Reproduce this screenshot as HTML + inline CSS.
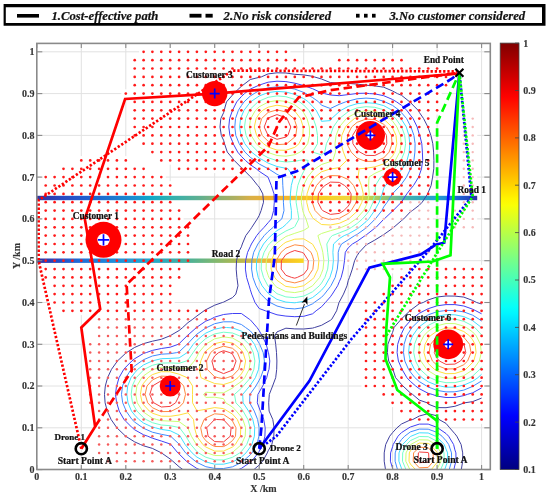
<!DOCTYPE html><html><head><meta charset="utf-8"><style>html,body{margin:0;padding:0;background:#fff;}svg{display:block;}</style></head><body><svg width="550" height="496" viewBox="0 0 550 496">
<defs>
<linearGradient id="r1" x1="0" x2="1" y1="0" y2="0"><stop offset="0.0005" stop-color="#3030a0"/><stop offset="0.0527" stop-color="#2848c0"/><stop offset="0.1208" stop-color="#2060d0"/><stop offset="0.2252" stop-color="#1a90d0"/><stop offset="0.257" stop-color="#10a8c8"/><stop offset="0.3025" stop-color="#30b0b0"/><stop offset="0.3706" stop-color="#60b090"/><stop offset="0.416" stop-color="#90b070"/><stop offset="0.4523" stop-color="#b0b060"/><stop offset="0.4841" stop-color="#d8b048"/><stop offset="0.5295" stop-color="#f0b030"/><stop offset="0.5976" stop-color="#f4bc2c"/><stop offset="0.6431" stop-color="#f8d020"/><stop offset="0.7112" stop-color="#f0d840"/><stop offset="0.7566" stop-color="#c0d050"/><stop offset="0.802" stop-color="#80c080"/><stop offset="0.8474" stop-color="#40b0b0"/><stop offset="0.9064" stop-color="#20a0d0"/><stop offset="0.9382" stop-color="#2080d8"/><stop offset="0.9723" stop-color="#2050c8"/><stop offset="1.0" stop-color="#3030a0"/></linearGradient>
<linearGradient id="r2" x1="0" x2="1" y1="0" y2="0"><stop offset="0.0" stop-color="#3030a0"/><stop offset="0.0667" stop-color="#2848c0"/><stop offset="0.1667" stop-color="#2070d8"/><stop offset="0.3333" stop-color="#1e98d8"/><stop offset="0.4167" stop-color="#20a8d0"/><stop offset="0.55" stop-color="#40b0a0"/><stop offset="0.6667" stop-color="#80b870"/><stop offset="0.75" stop-color="#b0b850"/><stop offset="0.8333" stop-color="#e8b840"/><stop offset="0.9167" stop-color="#f8b828"/><stop offset="1.0" stop-color="#f8d820"/></linearGradient>
<linearGradient id="cb" x1="0" x2="0" y1="0" y2="1"><stop offset="0.0000" stop-color="#800000"/><stop offset="0.0159" stop-color="#900000"/><stop offset="0.0317" stop-color="#a00000"/><stop offset="0.0476" stop-color="#b00000"/><stop offset="0.0635" stop-color="#c00000"/><stop offset="0.0794" stop-color="#d00000"/><stop offset="0.0952" stop-color="#e10000"/><stop offset="0.1111" stop-color="#f10000"/><stop offset="0.1270" stop-color="#ff0200"/><stop offset="0.1429" stop-color="#ff1200"/><stop offset="0.1587" stop-color="#ff2200"/><stop offset="0.1746" stop-color="#ff3300"/><stop offset="0.1905" stop-color="#ff4300"/><stop offset="0.2063" stop-color="#ff5300"/><stop offset="0.2222" stop-color="#ff6300"/><stop offset="0.2381" stop-color="#ff7300"/><stop offset="0.2540" stop-color="#ff8400"/><stop offset="0.2698" stop-color="#ff9400"/><stop offset="0.2857" stop-color="#ffa400"/><stop offset="0.3016" stop-color="#ffb400"/><stop offset="0.3175" stop-color="#ffc400"/><stop offset="0.3333" stop-color="#ffd400"/><stop offset="0.3492" stop-color="#ffe500"/><stop offset="0.3651" stop-color="#fff500"/><stop offset="0.3810" stop-color="#f9ff06"/><stop offset="0.3968" stop-color="#e9ff16"/><stop offset="0.4127" stop-color="#d9ff26"/><stop offset="0.4286" stop-color="#c8ff37"/><stop offset="0.4444" stop-color="#b8ff47"/><stop offset="0.4603" stop-color="#a8ff57"/><stop offset="0.4762" stop-color="#98ff67"/><stop offset="0.4921" stop-color="#88ff77"/><stop offset="0.5079" stop-color="#77ff88"/><stop offset="0.5238" stop-color="#67ff98"/><stop offset="0.5397" stop-color="#57ffa8"/><stop offset="0.5556" stop-color="#47ffb8"/><stop offset="0.5714" stop-color="#37ffc8"/><stop offset="0.5873" stop-color="#26ffd9"/><stop offset="0.6032" stop-color="#16ffe9"/><stop offset="0.6190" stop-color="#06fff9"/><stop offset="0.6349" stop-color="#00f5ff"/><stop offset="0.6508" stop-color="#00e5ff"/><stop offset="0.6667" stop-color="#00d5ff"/><stop offset="0.6825" stop-color="#00c4ff"/><stop offset="0.6984" stop-color="#00b4ff"/><stop offset="0.7143" stop-color="#00a4ff"/><stop offset="0.7302" stop-color="#0094ff"/><stop offset="0.7460" stop-color="#0084ff"/><stop offset="0.7619" stop-color="#0073ff"/><stop offset="0.7778" stop-color="#0063ff"/><stop offset="0.7937" stop-color="#0053ff"/><stop offset="0.8095" stop-color="#0043ff"/><stop offset="0.8254" stop-color="#0033ff"/><stop offset="0.8413" stop-color="#0022ff"/><stop offset="0.8571" stop-color="#0012ff"/><stop offset="0.8730" stop-color="#0002ff"/><stop offset="0.8889" stop-color="#0000f1"/><stop offset="0.9048" stop-color="#0000e1"/><stop offset="0.9206" stop-color="#0000d0"/><stop offset="0.9365" stop-color="#0000c0"/><stop offset="0.9524" stop-color="#0000b0"/><stop offset="0.9683" stop-color="#0000a0"/><stop offset="0.9841" stop-color="#000090"/><stop offset="1.0000" stop-color="#000080"/></linearGradient>
<clipPath id="ax"><rect x="36.8" y="43.4" width="453.5" height="426.1"/></clipPath>
</defs>
<rect width="550" height="496" fill="#fff"/>
<path d="M3.6,4H545.5V25.8H3.6Z M5.8,7.2V22.9H542V7.2Z" fill="#000" fill-rule="evenodd"/>
<line x1="17" y1="15.8" x2="39" y2="15.8" stroke="#000" stroke-width="3.6"/>
<line x1="189.5" y1="15.7" x2="201.5" y2="15.7" stroke="#000" stroke-width="3.8"/>
<line x1="205.5" y1="15.7" x2="212.7" y2="15.7" stroke="#000" stroke-width="3.8"/>
<rect x="356" y="13.8" width="3.6" height="3.8" fill="#000"/>
<rect x="364" y="13.8" width="3.6" height="3.8" fill="#000"/>
<rect x="372" y="13.8" width="3.6" height="3.8" fill="#000"/>
<text x="51.5" y="20" font-family="Liberation Serif, serif" font-weight="bold" font-style="italic" font-size="12.7" fill="#111" stroke="#111" stroke-width="0.2">1.Cost-effective path</text>
<text x="223.6" y="20" font-family="Liberation Serif, serif" font-weight="bold" font-style="italic" font-size="12.7" fill="#111" stroke="#111" stroke-width="0.2">2.No risk considered</text>
<text x="389.5" y="20" font-family="Liberation Serif, serif" font-weight="bold" font-style="italic" font-size="12.7" fill="#111" stroke="#111" stroke-width="0.2">3.No customer considered</text>
<g stroke="#e2e2e2" stroke-width="1"><line x1="81.3" y1="43.4" x2="81.3" y2="469.5"/><line x1="36.8" y1="427.8" x2="490.3" y2="427.8"/><line x1="125.8" y1="43.4" x2="125.8" y2="469.5"/><line x1="36.8" y1="386.0" x2="490.3" y2="386.0"/><line x1="170.2" y1="43.4" x2="170.2" y2="469.5"/><line x1="36.8" y1="344.3" x2="490.3" y2="344.3"/><line x1="214.7" y1="43.4" x2="214.7" y2="469.5"/><line x1="36.8" y1="302.5" x2="490.3" y2="302.5"/><line x1="259.2" y1="43.4" x2="259.2" y2="469.5"/><line x1="36.8" y1="260.7" x2="490.3" y2="260.7"/><line x1="303.7" y1="43.4" x2="303.7" y2="469.5"/><line x1="36.8" y1="218.9" x2="490.3" y2="218.9"/><line x1="348.2" y1="43.4" x2="348.2" y2="469.5"/><line x1="36.8" y1="177.1" x2="490.3" y2="177.1"/><line x1="392.6" y1="43.4" x2="392.6" y2="469.5"/><line x1="36.8" y1="135.4" x2="490.3" y2="135.4"/><line x1="437.1" y1="43.4" x2="437.1" y2="469.5"/><line x1="36.8" y1="93.6" x2="490.3" y2="93.6"/><line x1="481.6" y1="43.4" x2="481.6" y2="469.5"/><line x1="36.8" y1="51.8" x2="490.3" y2="51.8"/></g>
<g clip-path="url(#ax)">
<g fill="#fff"><rect x="139.1" y="47.5" width="151.3" height="8.6"/><rect x="130.2" y="55.9" width="169.1" height="8.6"/><rect x="334.8" y="55.9" width="71.3" height="8.6"/><rect x="130.2" y="64.2" width="311.5" height="8.6"/><rect x="130.2" y="72.6" width="320.4" height="8.6"/><rect x="130.2" y="80.9" width="320.4" height="8.6"/><rect x="121.3" y="89.3" width="320.4" height="8.6"/><rect x="130.2" y="97.6" width="311.5" height="8.6"/><rect x="130.2" y="106.0" width="311.5" height="8.6"/><rect x="130.2" y="114.3" width="302.6" height="8.6"/><rect x="459.3" y="114.3" width="17.9" height="8.6"/><rect x="130.2" y="122.7" width="302.6" height="8.6"/><rect x="459.3" y="122.7" width="17.9" height="8.6"/><rect x="130.2" y="131.1" width="302.6" height="8.6"/><rect x="459.3" y="131.1" width="17.9" height="8.6"/><rect x="139.1" y="139.4" width="293.7" height="8.6"/><rect x="459.3" y="139.4" width="17.9" height="8.6"/><rect x="147.9" y="147.8" width="284.8" height="8.6"/><rect x="459.3" y="147.8" width="17.9" height="8.6"/><rect x="76.8" y="156.1" width="53.5" height="8.6"/><rect x="156.8" y="156.1" width="275.9" height="8.6"/><rect x="459.3" y="156.1" width="17.9" height="8.6"/><rect x="59.0" y="164.5" width="89.1" height="8.6"/><rect x="174.6" y="164.5" width="258.1" height="8.6"/><rect x="459.3" y="164.5" width="17.9" height="8.6"/><rect x="41.2" y="172.8" width="124.6" height="8.6"/><rect x="290.3" y="172.8" width="142.4" height="8.6"/><rect x="459.3" y="172.8" width="17.9" height="8.6"/><rect x="41.2" y="181.2" width="133.5" height="8.6"/><rect x="299.2" y="181.2" width="133.5" height="8.6"/><rect x="459.3" y="181.2" width="17.9" height="8.6"/><rect x="41.2" y="189.6" width="133.5" height="8.6"/><rect x="308.1" y="189.6" width="124.6" height="8.6"/><rect x="459.3" y="189.6" width="17.9" height="8.6"/><rect x="41.2" y="197.9" width="133.5" height="8.6"/><rect x="308.1" y="197.9" width="98.0" height="8.6"/><rect x="405.9" y="197.9" width="26.8" height="8.6"/><rect x="459.3" y="197.9" width="17.9" height="8.6"/><rect x="41.2" y="206.3" width="142.4" height="8.6"/><rect x="325.9" y="206.3" width="80.2" height="8.6"/><rect x="405.9" y="206.3" width="26.8" height="8.6"/><rect x="450.4" y="206.3" width="26.8" height="8.6"/><rect x="41.2" y="214.6" width="142.4" height="8.6"/><rect x="317.0" y="214.6" width="115.8" height="8.6"/><rect x="450.4" y="214.6" width="26.8" height="8.6"/><rect x="41.2" y="223.0" width="151.3" height="8.6"/><rect x="325.9" y="223.0" width="106.9" height="8.6"/><rect x="450.4" y="223.0" width="26.8" height="8.6"/><rect x="41.2" y="231.3" width="151.3" height="8.6"/><rect x="334.8" y="231.3" width="98.0" height="8.6"/><rect x="41.2" y="239.7" width="151.3" height="8.6"/><rect x="334.8" y="239.7" width="98.0" height="8.6"/><rect x="41.2" y="248.0" width="151.3" height="8.6"/><rect x="343.7" y="248.0" width="89.1" height="8.6"/><rect x="41.2" y="256.4" width="151.3" height="8.6"/><rect x="343.7" y="256.4" width="89.1" height="8.6"/><rect x="41.2" y="264.8" width="142.4" height="8.6"/><rect x="352.6" y="264.8" width="53.5" height="8.6"/><rect x="405.9" y="264.8" width="80.2" height="8.6"/><rect x="41.2" y="273.1" width="142.4" height="8.6"/><rect x="397.0" y="273.1" width="89.1" height="8.6"/><rect x="50.1" y="281.5" width="124.6" height="8.6"/><rect x="388.1" y="281.5" width="98.0" height="8.6"/><rect x="50.1" y="289.8" width="124.6" height="8.6"/><rect x="379.2" y="289.8" width="106.9" height="8.6"/><rect x="50.1" y="298.2" width="124.6" height="8.6"/><rect x="361.5" y="298.2" width="124.6" height="8.6"/><rect x="59.0" y="306.5" width="151.3" height="8.6"/><rect x="361.5" y="306.5" width="124.6" height="8.6"/><rect x="94.6" y="314.9" width="133.5" height="8.6"/><rect x="361.5" y="314.9" width="124.6" height="8.6"/><rect x="94.6" y="323.2" width="142.4" height="8.6"/><rect x="361.5" y="323.2" width="124.6" height="8.6"/><rect x="94.6" y="331.6" width="160.2" height="8.6"/><rect x="361.5" y="331.6" width="124.6" height="8.6"/><rect x="85.7" y="340.0" width="169.1" height="8.6"/><rect x="361.5" y="340.0" width="124.6" height="8.6"/><rect x="85.7" y="348.3" width="169.1" height="8.6"/><rect x="361.5" y="348.3" width="124.6" height="8.6"/><rect x="85.7" y="356.7" width="169.1" height="8.6"/><rect x="361.5" y="356.7" width="124.6" height="8.6"/><rect x="85.7" y="365.0" width="169.1" height="8.6"/><rect x="361.5" y="365.0" width="124.6" height="8.6"/><rect x="85.7" y="373.4" width="169.1" height="8.6"/><rect x="361.5" y="373.4" width="124.6" height="8.6"/><rect x="85.7" y="381.7" width="169.1" height="8.6"/><rect x="361.5" y="381.7" width="124.6" height="8.6"/><rect x="85.7" y="390.1" width="169.1" height="8.6"/><rect x="379.2" y="390.1" width="106.9" height="8.6"/><rect x="85.7" y="398.5" width="169.1" height="8.6"/><rect x="388.1" y="398.5" width="98.0" height="8.6"/><rect x="94.6" y="406.8" width="160.2" height="8.6"/><rect x="397.0" y="406.8" width="89.1" height="8.6"/><rect x="94.6" y="415.2" width="160.2" height="8.6"/><rect x="405.9" y="415.2" width="80.2" height="8.6"/><rect x="94.6" y="423.5" width="160.2" height="8.6"/><rect x="94.6" y="431.9" width="160.2" height="8.6"/><rect x="94.6" y="440.2" width="160.2" height="8.6"/><rect x="94.6" y="448.6" width="160.2" height="8.6"/><rect x="103.5" y="456.9" width="151.3" height="8.6"/></g>
<rect x="36.8" y="195.8" width="440.4" height="4.4" fill="url(#r1)"/>
<rect x="36.8" y="258.5" width="266.9" height="4.4" fill="url(#r2)"/>
<g fill="none" stroke-width="1" stroke-linejoin="round"><polyline points="253.9,469.6 259.2,465.0 262.7,461.2 267.3,452.9 268.1,450.9 271.8,444.5 273.8,436.2 274.1,427.8 272.8,419.5 269.1,411.1 268.7,402.8 269.3,394.4 272.6,386.0 275.7,377.7 276.7,369.3 276.9,361.0 276.5,352.6 275.7,344.3 274.5,335.9 277.0,331.9 285.9,328.2 294.8,328.9 303.7,329.0 312.6,328.1 314.6,327.5 321.5,325.3 330.4,320.3 331.8,319.2 336.6,310.8 339.0,302.5 339.3,302.0 343.5,294.1 347.0,285.8 348.2,280.7 349.5,277.4 352.3,269.1 354.6,260.7 357.1,255.6 359.3,252.3 366.0,245.1 367.8,244.0 374.8,240.1 382.0,235.6 383.7,234.6 392.6,228.3 393.8,227.3 401.5,220.6 403.7,218.9 410.4,211.8 412.3,210.6 419.3,205.2 422.2,202.2 427.7,193.9 428.2,192.5 431.1,185.5 432.6,177.1 433.8,168.8 433.9,160.4 433.6,152.1 432.8,143.7 430.9,135.4 428.2,127.9 427.9,127.0 423.6,118.6 419.3,112.4 418.1,110.3 410.4,102.5 409.8,101.9 401.5,95.3 397.4,93.6 392.6,91.0 383.7,87.2 374.8,85.9 366.1,85.2 366.0,85.2 357.1,84.1 348.2,83.4 339.3,83.3 330.4,82.6 321.5,79.0 314.3,76.9 312.6,76.3 303.7,74.9 294.8,74.3 285.9,73.0 277.0,72.8 268.1,73.9 261.3,76.9 259.2,77.3 250.3,79.5 242.9,85.2 241.4,86.3 233.6,93.6 232.5,95.0 226.5,101.9 224.2,110.3 223.6,112.7 220.8,118.6 220.0,127.0 221.3,135.4 223.6,140.3 224.5,143.7 227.3,152.1 232.5,158.2 234.2,160.4 241.4,167.7 242.7,168.8 250.3,176.6 251.0,177.1 257.7,185.5 259.2,187.1 262.8,193.9 263.5,202.2 261.1,210.6 259.2,215.5 257.3,218.9 251.8,227.3 250.3,229.6 245.8,235.6 242.3,244.0 241.4,246.8 238.5,252.3 236.5,260.7 236.2,269.1 236.9,277.4 238.0,285.8 235.8,294.1 232.5,297.6 223.6,302.1 222.3,302.5 214.7,305.2 205.8,309.7 204.0,310.8 196.9,316.0 192.8,319.2 188.0,322.6 182.7,327.5 179.1,330.5 170.2,335.7 169.7,335.9 161.3,339.3 152.4,341.2 143.6,343.6 141.9,344.3 134.7,347.4 126.5,352.6 125.8,353.1 117.4,361.0 116.9,361.8 111.5,369.3 108.0,376.8 107.6,377.7 105.3,386.0 104.5,394.4 105.1,402.8 107.3,411.1 108.0,412.7 111.1,419.5 116.9,427.8 116.9,427.8 125.6,436.2 125.8,436.3 134.7,441.9 140.5,444.5 143.6,445.8 152.4,448.4 161.3,452.8 161.5,452.9 170.2,459.0 172.8,461.2 179.1,466.8 182.9,469.6" stroke="#40409f"/><polyline points="461.3,469.6 462.7,461.2 462.7,452.9 461.1,444.5 456.8,436.2 454.9,433.8 449.7,427.8 446.0,423.4 439.0,419.5 437.1,415.9 428.2,413.6 419.3,416.0 412.8,419.5 410.4,419.9 401.5,424.0 397.0,427.8 392.6,432.6 389.7,436.2 385.7,444.5 384.2,452.9 384.2,461.2 385.5,469.6" stroke="#40409f"/><polyline points="481.6,304.0 476.7,302.5 472.7,300.5 463.8,297.1 454.9,296.1 446.0,296.0 437.1,297.0 428.2,299.9 423.2,302.5 419.3,303.7 410.4,310.4 409.9,310.8 401.5,318.8 401.2,319.2 394.0,327.5 392.6,332.4 391.0,335.9 387.9,344.3 387.4,352.6 388.7,361.0 392.6,368.6 392.9,369.3 395.6,377.7 401.5,384.4 403.0,386.0 410.4,393.0 412.6,394.4 419.3,400.1 427.2,402.8 428.2,404.1 437.1,407.6 446.0,407.7 454.9,406.3 463.8,403.1 464.8,402.8 472.7,401.6 481.6,398.1" stroke="#40409f"/><polyline points="238.5,469.6 241.4,468.4 250.3,462.3 251.5,461.2 258.4,452.9 259.2,451.3 262.9,444.5 264.9,436.2 265.2,427.8 263.7,419.5 260.4,411.1 259.2,407.9 257.3,402.8 257.9,394.4 259.2,392.2 262.7,386.0 266.7,377.7 268.1,372.0 269.0,369.3 269.8,361.0 268.5,352.6 268.1,351.4 266.2,344.3 262.2,335.9 259.2,330.6 257.0,327.5 250.3,319.8 249.3,319.2 241.4,313.5 232.5,313.5 223.6,314.5 214.7,317.1 210.8,319.2 205.8,321.1 196.9,327.2 196.5,327.5 188.0,335.0 187.0,335.9 179.1,343.7 178.2,344.3 170.2,347.2 161.3,348.5 152.4,350.4 146.3,352.6 143.6,353.4 134.7,358.7 131.8,361.0 125.8,367.1 123.8,369.3 119.0,377.7 116.9,385.2 116.5,386.0 115.5,394.4 116.6,402.8 116.9,403.3 119.2,411.1 124.0,419.5 125.8,421.3 132.3,427.8 134.7,429.8 143.6,434.8 147.7,436.2 152.4,438.2 161.3,441.0 170.2,444.0 170.9,444.5 177.9,452.9 179.1,454.0 186.4,461.2 188.0,462.6 196.9,468.5 199.7,469.6" stroke="#4040f4"/><polyline points="453.9,469.6 454.9,465.0 456.0,461.2 455.9,452.9 454.9,449.9 453.6,444.5 448.6,436.2 446.0,433.5 437.7,427.8 437.1,427.4 428.2,424.1 419.3,424.1 410.4,427.0 409.0,427.8 401.5,432.6 398.0,436.2 393.2,444.5 392.6,446.7 390.6,452.9 390.4,461.2 392.6,468.4 392.9,469.6" stroke="#4040f4"/><polyline points="481.6,313.8 475.9,310.8 472.7,309.2 463.8,306.0 454.9,304.6 446.0,304.6 437.1,305.8 428.2,308.7 424.1,310.8 419.3,313.3 411.9,319.2 410.4,320.6 404.4,327.5 401.5,333.6 400.4,335.9 397.7,344.3 397.1,352.6 398.4,361.0 401.5,368.2 402.0,369.3 406.9,377.7 410.4,381.4 415.7,386.0 419.3,388.7 428.2,393.3 432.2,394.4 437.1,396.1 446.0,397.5 454.9,397.4 463.8,395.6 467.3,394.4 472.7,392.8 481.6,387.9" stroke="#4040f4"/><polyline points="294.8,83.2 285.9,81.6 277.0,81.2 268.1,82.2 259.2,85.1 259.0,85.2 250.3,89.1 244.5,93.6 241.4,96.5 236.7,101.9 232.5,110.3 232.5,110.3 229.6,118.6 228.8,127.0 229.9,135.4 232.5,141.7 233.2,143.7 237.7,152.1 241.4,156.4 245.4,160.4 250.3,164.7 256.3,168.8 259.2,171.3 268.0,177.1 268.1,177.3 271.3,185.5 274.0,193.9 274.3,202.2 273.6,210.6 271.4,218.9 268.1,222.7 264.1,227.3 259.2,232.5 256.7,235.6 251.4,244.0 250.3,246.5 247.6,252.3 245.6,260.7 245.4,269.1 246.6,277.4 249.2,285.8 250.3,289.7 251.7,294.1 255.0,302.5 259.2,308.5 265.4,310.8 268.1,311.7 277.0,314.8 285.9,316.1 294.8,316.7 303.7,316.3 312.6,313.8 316.1,310.8 321.5,306.8 325.4,302.5 330.4,296.8 332.3,294.1 337.6,285.8 339.3,281.7 341.2,277.4 343.3,269.1 344.5,260.7 345.3,252.3 348.2,247.9 352.4,244.0 357.1,241.3 365.1,235.6 366.0,235.1 374.8,228.2 376.1,227.3 383.7,219.3 384.3,218.9 392.6,211.0 393.1,210.6 401.4,202.2 401.5,202.1 406.8,193.9 410.4,189.2 413.5,185.5 418.6,177.1 419.3,175.1 421.5,168.8 422.7,160.4 422.4,152.1 421.8,143.7 419.8,135.4 419.3,134.5 417.2,127.0 413.1,118.6 410.4,115.2 406.8,110.3 401.5,105.3 396.6,101.9 392.6,99.5 383.7,95.7 374.8,93.9 369.5,93.6 366.0,93.2 357.1,93.4 356.2,93.6 348.2,94.6 339.3,95.7 330.4,95.0 324.5,93.6 321.5,92.9 312.6,88.7 303.7,85.6 302.3,85.2 294.8,83.2" stroke="#4040f4"/><polyline points="241.4,324.5 232.5,321.8 223.6,321.8 214.7,323.7 206.9,327.5 205.8,328.0 196.9,334.1 195.0,335.9 188.0,343.4 187.1,344.3 179.1,351.9 176.7,352.6 170.2,353.7 161.3,354.2 152.4,356.0 143.6,359.7 141.6,361.0 134.7,365.9 131.2,369.3 125.8,377.7 125.8,377.8 122.5,386.0 121.5,394.4 122.7,402.8 125.8,410.1 126.1,411.1 132.0,419.5 134.7,422.1 142.8,427.8 143.6,428.3 152.4,432.2 161.3,434.3 170.2,436.0 170.6,436.2 179.1,444.1 179.4,444.5 185.6,452.9 188.0,455.2 195.3,461.2 196.9,462.4 205.8,466.7 214.7,468.4 223.6,468.5 232.5,466.8 241.4,462.5 243.1,461.2 250.3,454.8 252.0,452.9 256.9,444.5 258.9,436.2 259.1,427.8 257.6,419.5 254.3,411.1 250.3,403.9 249.6,402.8 249.9,394.4 250.3,393.9 255.9,386.0 259.2,380.2 260.6,377.7 263.6,369.3 264.4,361.0 263.2,352.6 259.7,344.3 259.2,343.3 254.6,335.9 250.3,330.9 245.6,327.5 241.4,324.5" stroke="#408aff"/><polyline points="449.2,469.6 451.6,461.2 451.5,452.9 448.7,444.5 446.0,440.7 442.0,436.2 437.1,432.4 428.2,429.2 419.3,429.1 410.4,431.9 404.7,436.2 401.5,439.5 397.9,444.5 395.2,452.9 395.1,461.2 397.5,469.6" stroke="#408aff"/><polyline points="481.6,321.1 479.0,319.2 472.7,315.2 463.8,311.9 456.8,310.8 454.9,310.5 446.0,310.4 443.4,310.8 437.1,311.7 428.2,314.8 421.1,319.2 419.3,320.4 412.0,327.5 410.4,329.9 406.7,335.9 404.1,344.3 403.5,352.6 404.8,361.0 408.5,369.3 410.4,372.0 414.9,377.7 419.3,381.6 426.6,386.0 428.2,387.0 437.1,390.4 446.0,391.9 454.9,391.8 463.8,390.1 472.7,386.4 473.3,386.0 481.6,380.9" stroke="#408aff"/><polyline points="303.7,92.4 294.8,89.1 285.9,87.3 277.0,86.9 268.1,87.8 259.2,90.7 254.1,93.6 250.3,96.0 244.0,101.9 241.4,105.6 238.4,110.3 235.5,118.6 234.8,127.0 235.8,135.4 239.2,143.7 241.4,147.1 245.0,152.1 250.3,157.3 254.5,160.4 259.2,164.0 268.1,168.7 268.4,168.8 277.0,174.3 282.5,177.1 282.8,185.5 283.4,193.9 283.4,202.2 284.0,210.6 281.8,218.9 277.0,223.0 273.2,227.3 268.1,231.6 264.2,235.6 259.2,242.2 257.9,244.0 253.7,252.3 251.8,260.7 251.6,269.1 252.9,277.4 256.0,285.8 259.2,291.7 260.9,294.1 268.1,301.3 270.2,302.5 277.0,306.0 285.9,308.3 294.8,308.9 303.7,307.7 312.6,303.8 314.2,302.5 321.5,297.3 324.5,294.1 330.4,286.5 330.9,285.8 335.2,277.4 337.3,269.1 338.2,260.7 338.2,252.3 339.3,248.4 341.5,244.0 348.2,239.8 354.7,235.6 357.1,234.4 366.0,228.0 366.9,227.3 374.8,219.4 375.4,218.9 381.9,210.6 383.7,206.9 387.2,202.2 392.5,193.9 392.6,193.6 400.4,185.5 401.5,184.1 406.5,177.1 410.4,169.1 410.6,168.8 413.9,160.4 414.9,152.1 415.1,143.7 413.9,135.4 411.0,127.0 410.4,126.0 406.6,118.6 401.5,112.7 399.1,110.3 392.6,105.4 385.0,101.9 383.7,101.3 374.8,98.7 366.0,98.1 357.1,98.8 348.2,101.1 345.5,101.9 339.3,104.3 330.4,108.5 321.5,105.2 318.7,101.9 312.6,97.6 306.0,93.6 303.7,92.4" stroke="#408aff"/><polyline points="223.6,327.4 222.8,327.5 214.7,329.2 205.8,333.1 202.1,335.9 196.9,340.4 193.2,344.3 188.0,351.8 187.2,352.6 179.1,357.9 170.2,358.4 161.3,358.7 152.4,360.9 152.2,361.0 143.6,364.9 137.8,369.3 134.7,372.8 131.0,377.7 127.7,386.0 126.8,394.4 128.0,402.8 131.5,411.1 134.7,415.1 138.9,419.5 143.6,423.1 152.4,427.1 155.5,427.8 161.3,429.4 170.2,430.7 179.1,435.0 180.1,436.2 185.1,444.5 188.0,448.1 192.1,452.9 196.9,457.1 204.5,461.2 205.8,461.9 214.7,464.2 223.6,464.2 232.5,462.0 234.1,461.2 241.4,457.1 246.0,452.9 250.3,447.0 251.9,444.5 254.4,436.2 254.7,427.8 252.8,419.5 250.3,414.2 248.6,411.1 243.1,402.8 242.7,394.4 249.7,386.0 250.3,385.3 255.4,377.7 258.6,369.3 259.2,363.7 259.5,361.0 259.2,359.2 258.1,352.6 254.5,344.3 250.3,338.6 247.5,335.9 241.4,331.1 232.5,327.9 226.5,327.5 223.6,327.4" stroke="#40dfff"/><polyline points="444.7,469.6 446.0,465.9 447.7,461.2 447.6,452.9 446.0,449.0 444.2,444.5 437.1,437.1 435.4,436.2 428.2,433.0 419.3,432.8 411.1,436.2 410.4,436.5 402.5,444.5 401.5,446.7 399.0,452.9 398.9,461.2 401.5,468.4 402.0,469.6" stroke="#40dfff"/><polyline points="481.6,327.6 481.5,327.5 472.7,320.7 469.7,319.2 463.8,316.6 454.9,314.8 446.0,314.7 437.1,316.3 430.3,319.2 428.2,320.2 419.3,326.7 418.4,327.5 412.5,335.9 410.4,341.3 409.4,344.3 408.6,352.6 410.4,361.0 410.4,361.1 414.4,369.3 419.3,375.1 422.2,377.7 428.2,381.8 437.1,385.4 440.2,386.0 446.0,387.2 454.9,387.1 459.7,386.0 463.8,385.1 472.7,381.3 477.9,377.7 481.6,374.2" stroke="#40dfff"/><polyline points="285.9,92.0 277.0,91.4 268.1,92.6 265.3,93.6 259.2,96.0 250.5,101.9 250.3,102.1 244.0,110.3 241.4,116.5 240.6,118.6 239.6,127.0 241.0,135.4 241.4,136.3 244.8,143.7 250.3,150.7 251.6,152.1 259.2,158.1 263.5,160.4 268.1,163.1 277.0,166.5 285.9,168.3 288.1,168.8 293.5,177.1 291.3,185.5 290.4,193.9 290.2,202.2 291.4,210.6 291.3,218.9 285.9,224.5 282.7,227.3 277.0,230.6 271.2,235.6 268.1,238.6 263.5,244.0 259.2,251.9 259.0,252.3 256.6,260.7 256.4,269.1 258.2,277.4 259.2,279.7 262.1,285.8 268.1,293.3 269.0,294.1 277.0,299.4 285.9,302.1 290.9,302.5 294.8,302.8 296.5,302.5 303.7,301.3 312.6,297.5 317.0,294.1 321.5,290.2 325.2,285.8 329.9,277.4 330.4,275.9 332.5,269.1 333.4,260.7 332.9,252.3 333.5,244.0 339.3,238.6 344.2,235.6 348.2,234.0 357.1,228.9 359.3,227.3 366.0,221.7 368.8,218.9 374.6,210.6 374.8,210.1 379.2,202.2 382.2,193.9 383.7,188.4 385.4,185.5 392.6,179.2 394.5,177.1 401.5,169.8 402.3,168.8 407.0,160.4 409.2,152.1 409.8,143.7 408.9,135.4 406.3,127.0 401.5,119.4 401.0,118.6 392.6,110.6 392.2,110.3 383.7,105.6 374.8,103.3 366.0,102.7 357.1,103.7 348.2,106.4 341.1,110.3 339.3,111.6 331.5,118.6 330.4,120.6 321.5,121.3 320.5,118.6 316.2,110.3 312.6,106.4 308.4,101.9 303.7,98.6 294.8,94.4 291.8,93.6 285.9,92.0" stroke="#40dfff"/><polyline points="440.7,469.6 444.2,461.2 444.0,452.9 440.1,444.5 437.1,441.3 428.2,436.7 419.3,436.5 410.4,440.6 406.6,444.5 402.7,452.9 402.5,461.2 406.0,469.6" stroke="#75ffca"/><polyline points="232.5,333.0 223.6,332.2 214.7,333.9 210.5,335.9 205.8,338.5 199.3,344.3 196.9,347.2 193.1,352.6 188.0,360.0 186.2,361.0 179.1,363.3 170.2,362.9 161.3,363.1 152.4,365.3 144.3,369.3 143.6,369.9 136.2,377.7 134.7,380.6 132.2,386.0 131.2,394.4 132.5,402.8 134.7,407.2 137.0,411.1 143.6,417.8 146.1,419.5 152.4,422.7 161.3,425.0 170.2,425.7 179.1,427.5 179.6,427.8 185.9,436.2 188.0,439.8 190.8,444.5 196.9,451.6 198.5,452.9 205.8,457.2 214.7,459.9 223.6,460.0 232.5,457.3 239.8,452.9 241.4,451.5 246.7,444.5 249.9,436.2 250.2,427.8 247.9,419.5 243.1,411.1 241.4,408.6 235.9,402.8 234.5,394.4 241.4,388.2 243.3,386.0 250.3,378.0 250.5,377.7 253.9,369.3 254.9,361.0 253.3,352.6 250.3,346.3 249.1,344.3 241.4,336.8 239.6,335.9 232.5,333.0" stroke="#75ffca"/><polyline points="481.6,334.9 474.8,327.5 472.7,325.9 463.8,321.3 455.7,319.2 454.9,319.0 446.0,318.9 444.8,319.2 437.1,321.0 428.2,325.4 425.3,327.5 419.3,333.8 417.8,335.9 414.5,344.3 413.7,352.6 415.5,361.0 419.3,368.3 420.0,369.3 428.2,376.7 430.0,377.7 437.1,380.8 446.0,382.7 454.9,382.6 463.8,380.5 469.9,377.7 472.7,376.0 479.9,369.3 481.6,366.7" stroke="#75ffca"/><polyline points="294.8,99.4 285.9,96.7 277.0,95.9 268.1,97.3 259.2,101.1 257.9,101.9 250.3,109.2 249.4,110.3 245.6,118.6 244.5,127.0 246.1,135.4 250.1,143.7 250.3,143.9 258.3,152.1 259.2,152.8 268.1,157.7 276.1,160.4 277.0,160.8 285.9,162.0 294.8,161.3 299.7,160.4 303.7,159.7 308.2,160.4 305.4,168.8 303.7,171.4 300.9,177.1 297.8,185.5 296.4,193.9 296.1,202.2 297.5,210.6 298.9,218.9 294.8,226.7 294.2,227.3 285.9,231.0 278.3,235.6 277.0,236.6 269.2,244.0 268.1,245.4 264.1,252.3 261.4,260.7 261.2,269.1 263.5,277.4 267.9,285.8 268.1,286.0 277.0,293.7 278.1,294.1 285.9,296.9 294.8,297.6 303.7,296.1 307.9,294.1 312.6,291.7 319.3,285.8 321.5,283.1 324.9,277.4 327.7,269.1 328.6,260.7 327.7,252.3 326.8,244.0 330.4,237.4 332.3,235.6 339.3,232.9 348.2,229.4 351.6,227.3 357.1,223.5 362.4,218.9 366.0,214.9 369.3,210.6 373.0,202.2 374.8,194.4 375.0,193.9 375.4,185.5 380.6,177.1 383.7,175.6 392.6,170.5 394.3,168.8 401.0,160.4 401.5,159.3 404.4,152.1 405.6,143.7 404.7,135.4 401.7,127.0 401.5,126.8 395.8,118.6 392.6,115.6 384.6,110.3 383.7,109.8 374.8,107.3 366.0,106.7 357.1,107.9 351.0,110.3 348.2,111.7 339.3,118.6 339.2,118.6 333.3,127.0 330.4,135.4 330.4,135.5 326.4,143.7 324.8,152.1 321.5,154.9 312.7,152.1 317.5,143.7 317.5,135.4 316.2,127.0 313.3,118.6 312.6,117.3 308.8,110.3 303.7,105.0 299.6,101.9 294.8,99.4" stroke="#75ffca"/><polyline points="436.7,469.6 437.1,469.1 440.9,461.2 440.7,452.9 437.1,446.1 435.7,444.5 428.2,440.0 419.3,439.8 410.7,444.5 410.4,444.8 406.0,452.9 405.8,461.2 409.9,469.6" stroke="#caff75"/><polyline points="241.4,343.0 232.5,338.0 223.6,336.9 214.7,338.8 205.8,344.2 205.7,344.3 198.8,352.6 196.9,356.6 194.3,361.0 188.0,368.3 179.1,368.4 170.2,367.3 161.3,367.3 153.7,369.3 152.4,369.7 143.6,375.8 141.8,377.7 136.9,386.0 135.7,394.4 137.3,402.8 142.6,411.1 143.6,412.1 152.4,418.2 156.7,419.5 161.3,420.7 170.2,421.1 179.1,421.6 187.7,427.8 188.0,428.3 191.4,436.2 196.4,444.5 196.9,445.1 205.8,452.4 207.0,452.9 214.7,455.5 223.6,455.6 231.5,452.9 232.5,452.4 241.4,444.6 241.4,444.5 245.2,436.2 245.6,427.8 242.9,419.5 241.4,417.0 236.4,411.1 232.5,407.0 225.7,402.8 223.6,398.7 214.7,397.2 205.8,397.4 203.5,394.4 205.8,392.2 214.7,392.8 223.6,392.8 232.5,388.1 234.8,386.0 241.4,381.4 244.7,377.7 249.1,369.3 250.3,361.2 250.3,361.0 250.3,360.8 248.3,352.6 242.7,344.3 241.4,343.0" stroke="#caff75"/><polyline points="463.8,326.2 454.9,323.6 446.0,323.5 437.1,325.8 433.7,327.5 428.2,331.2 423.7,335.9 419.6,344.3 419.3,347.0 418.7,352.6 419.3,355.1 420.8,361.0 426.7,369.3 428.2,370.7 437.1,376.1 443.4,377.7 446.0,378.3 454.9,378.2 456.8,377.7 463.8,375.7 472.7,369.9 473.3,369.3 479.3,361.0 481.3,352.6 480.4,344.3 476.3,335.9 472.7,332.0 466.4,327.5 463.8,326.2" stroke="#caff75"/><polyline points="383.7,114.3 374.8,111.3 366.0,110.7 357.1,112.4 348.2,117.2 346.3,118.6 339.3,127.0 339.3,127.1 336.1,135.4 335.0,143.7 335.5,152.1 332.9,160.4 330.4,161.6 321.5,164.5 315.1,168.8 312.6,170.9 307.7,177.1 303.7,185.0 303.5,185.5 301.6,193.9 301.3,202.2 302.7,210.6 303.7,213.6 306.0,218.9 308.6,227.3 303.7,230.4 294.8,233.3 288.4,235.6 285.9,236.5 277.0,242.8 275.7,244.0 269.3,252.3 268.1,255.5 266.3,260.7 266.1,269.1 268.1,275.3 268.9,277.4 275.2,285.8 277.0,287.3 285.9,291.6 294.8,292.6 303.7,290.9 312.5,285.8 312.6,285.7 319.7,277.4 321.5,273.2 323.0,269.1 323.9,260.7 322.8,252.3 321.5,246.8 320.4,244.0 317.9,235.6 321.5,233.5 330.4,230.7 339.3,228.2 341.6,227.3 348.2,224.4 356.0,218.9 357.1,218.0 363.7,210.6 366.0,205.9 367.6,202.2 369.2,193.9 368.6,185.5 369.0,177.1 374.8,173.4 383.7,169.4 384.8,168.8 392.6,163.5 395.3,160.4 399.7,152.1 401.3,143.7 400.4,135.4 396.9,127.0 392.6,121.2 390.0,118.6 383.7,114.3" stroke="#caff75"/><polyline points="285.9,101.4 277.0,100.5 268.7,101.9 268.1,102.1 259.2,106.8 255.5,110.3 250.7,118.6 250.3,120.9 249.4,127.0 250.3,131.5 251.2,135.4 256.3,143.7 259.2,146.7 267.4,152.1 268.1,152.5 277.0,155.5 285.9,156.2 294.8,154.7 300.0,152.1 303.7,149.1 307.7,143.7 309.5,135.4 309.4,127.0 307.0,118.6 303.7,112.8 301.9,110.3 294.8,104.8 287.5,101.9 285.9,101.4" stroke="#caff75"/><polyline points="431.3,469.6 437.1,462.4 437.7,461.2 437.4,452.9 437.1,452.3 430.1,444.5 428.2,443.4 419.3,443.1 416.7,444.5 410.4,450.8 409.3,452.9 409.0,461.2 410.4,464.0 415.5,469.6" stroke="#ffdf40"/><polyline points="179.1,374.2 170.2,371.8 161.3,371.7 152.4,374.6 148.2,377.7 143.6,383.2 141.8,386.0 140.4,394.4 142.2,402.8 143.6,404.8 149.4,411.1 152.4,413.2 161.3,416.2 170.2,416.3 179.1,415.0 188.0,412.8 193.5,419.5 194.5,427.8 196.9,436.2 196.9,436.3 202.8,444.5 205.8,447.0 214.7,451.1 223.6,451.1 232.5,447.0 235.3,444.5 240.4,436.2 240.8,427.8 237.3,419.5 232.5,414.1 227.6,411.1 223.6,408.6 214.7,407.6 205.8,409.3 196.9,410.8 192.5,402.8 192.5,394.4 192.6,386.0 188.0,378.9 187.1,377.7 179.1,374.2" stroke="#ffdf40"/><polyline points="232.5,343.1 223.6,341.6 214.7,343.7 213.9,344.3 205.8,351.0 204.4,352.6 200.8,361.0 199.2,369.3 201.0,377.7 205.8,379.9 214.7,383.5 223.6,384.5 232.5,381.7 238.0,377.7 241.4,373.9 244.0,369.3 245.6,361.0 243.1,352.6 241.4,350.1 234.5,344.3 232.5,343.1" stroke="#ffdf40"/><polyline points="463.8,331.5 454.9,328.2 446.0,328.0 437.1,331.0 430.2,335.9 428.2,338.4 425.0,344.3 423.9,352.6 426.4,361.0 428.2,363.5 434.4,369.3 437.1,371.0 446.0,373.7 454.9,373.5 463.8,370.6 465.7,369.3 472.7,362.4 473.7,361.0 476.1,352.6 475.1,344.3 472.7,339.9 469.7,335.9 463.8,331.5" stroke="#ffdf40"/><polyline points="303.7,238.8 294.8,239.2 285.9,242.2 283.3,244.0 277.0,249.6 274.9,252.3 271.3,260.7 271.1,269.1 274.7,277.4 277.0,280.3 284.8,285.8 285.9,286.4 294.8,287.6 303.4,285.8 303.7,285.7 312.6,279.1 314.0,277.4 318.0,269.1 318.9,260.7 317.2,252.3 312.6,244.2 312.3,244.0 303.7,238.8" stroke="#ffdf40"/><polyline points="374.8,115.5 366.0,114.9 357.1,117.1 354.3,118.6 348.2,123.8 345.4,127.0 341.8,135.4 341.1,143.7 343.4,152.1 346.7,160.4 339.3,167.6 331.9,168.8 330.4,168.9 321.5,171.8 315.1,177.1 312.6,180.3 309.7,185.5 307.0,193.9 306.7,202.2 308.7,210.6 312.6,217.7 313.7,218.9 321.5,224.5 330.4,225.0 339.3,223.3 348.2,219.3 348.7,218.9 357.1,211.3 357.7,210.6 361.9,202.2 363.3,193.9 361.4,185.5 358.1,177.1 359.2,168.8 366.0,168.2 374.8,166.9 383.7,163.9 388.6,160.4 392.6,155.8 394.8,152.1 396.8,143.7 396.0,135.4 392.6,128.0 392.1,127.0 383.7,119.0 383.1,118.6 374.8,115.5" stroke="#ffdf40"/><polyline points="285.9,106.6 277.0,105.2 268.1,107.2 262.7,110.3 259.2,113.7 256.1,118.6 254.3,127.0 256.6,135.4 259.2,139.4 263.4,143.7 268.1,147.0 277.0,150.1 285.9,150.3 294.8,147.3 299.0,143.7 302.9,135.4 303.2,127.0 300.6,118.6 294.8,111.1 293.7,110.3 285.9,106.6" stroke="#ffdf40"/><polyline points="428.2,447.7 419.3,447.2 413.6,452.9 413.2,461.2 419.3,467.8 428.2,467.4 433.4,461.2 433.1,452.9 428.2,447.7" stroke="#ff8a40"/><polyline points="223.6,414.5 214.7,413.8 205.8,418.0 204.1,419.5 200.7,427.8 202.4,436.2 205.8,440.7 210.8,444.5 214.7,446.5 223.6,446.6 227.6,444.5 232.5,440.6 235.5,436.2 236.0,427.8 232.5,421.1 231.0,419.5 223.6,414.5" stroke="#ff8a40"/><polyline points="170.2,376.5 161.3,376.1 157.1,377.7 152.4,380.0 147.0,386.0 145.1,394.4 147.7,402.8 152.4,407.7 159.8,411.1 161.3,411.6 170.2,411.5 171.5,411.1 179.1,407.3 183.4,402.8 185.5,394.4 183.7,386.0 179.1,381.0 173.7,377.7 170.2,376.5" stroke="#ff8a40"/><polyline points="232.5,348.3 223.6,346.2 214.7,349.1 210.6,352.6 206.6,361.0 207.2,369.3 214.7,376.8 218.2,377.7 223.6,378.8 227.1,377.7 232.5,375.9 238.8,369.3 240.8,361.0 237.4,352.6 232.5,348.3" stroke="#ff8a40"/><polyline points="454.9,332.9 446.0,332.7 438.2,335.9 437.1,336.5 430.5,344.3 429.1,352.6 432.4,361.0 437.1,365.4 446.0,369.0 454.9,368.8 463.8,364.7 467.6,361.0 471.0,352.6 469.6,344.3 463.8,337.2 461.7,335.9 454.9,332.9" stroke="#ff8a40"/><polyline points="303.7,246.0 294.8,244.8 285.9,248.1 281.1,252.3 277.0,259.2 276.3,260.7 276.2,269.1 277.0,270.8 281.1,277.4 285.9,281.0 294.8,282.9 303.7,280.4 307.5,277.4 312.6,269.7 312.9,269.1 313.8,260.7 312.6,256.2 311.0,252.3 303.7,246.0" stroke="#ff8a40"/><polyline points="339.3,175.8 330.4,175.6 326.6,177.1 321.5,179.8 316.5,185.5 312.7,193.9 312.6,195.6 312.3,202.2 312.6,203.4 315.1,210.6 321.5,217.1 327.0,218.9 330.4,219.7 335.5,218.9 339.3,218.4 348.2,213.4 351.2,210.6 356.3,202.2 357.1,194.8 357.2,193.9 357.1,193.5 353.6,185.5 348.2,179.5 342.8,177.1 339.3,175.8" stroke="#ff8a40"/><polyline points="383.7,124.3 374.8,119.6 366.0,119.1 357.1,122.3 351.6,127.0 348.2,133.8 347.5,135.4 347.1,143.7 348.2,146.3 351.2,152.1 357.1,158.1 363.0,160.4 366.0,161.4 374.8,161.3 377.5,160.4 383.7,157.9 389.1,152.1 392.1,143.7 391.4,135.4 386.5,127.0 383.7,124.3" stroke="#ff8a40"/><polyline points="277.0,109.9 275.5,110.3 268.1,112.4 261.6,118.6 259.3,127.0 262.2,135.4 268.1,141.3 274.5,143.7 277.0,144.6 285.9,144.1 286.7,143.7 294.8,137.0 295.8,135.4 296.9,127.0 294.8,120.7 294.0,118.6 285.9,111.9 279.0,110.3 277.0,109.9" stroke="#ff8a40"/><polyline points="428.2,452.5 419.3,452.0 418.4,452.9 418.0,461.2 419.3,462.7 428.2,462.1 429.0,461.2 428.6,452.9 428.2,452.5" stroke="#f44040"/><polyline points="214.7,419.4 214.6,419.5 206.7,427.8 208.1,436.2 214.7,441.6 223.6,441.9 230.3,436.2 231.1,427.8 223.6,419.8 216.5,419.5 214.7,419.4" stroke="#f44040"/><polyline points="170.2,381.4 161.3,380.7 152.4,386.0 152.4,386.0 149.8,394.4 152.4,400.8 153.8,402.8 161.3,407.0 170.2,406.4 175.6,402.8 179.1,395.7 179.6,394.4 179.1,392.9 176.5,386.0 170.2,381.4" stroke="#f44040"/><polyline points="223.6,350.7 218.7,352.6 214.7,355.9 211.9,361.0 214.1,369.3 214.7,369.9 223.6,373.6 232.5,370.1 233.2,369.3 236.1,361.0 232.5,354.2 229.9,352.6 223.6,350.7" stroke="#f44040"/><polyline points="463.8,344.0 454.9,337.8 446.0,337.5 437.1,343.1 436.1,344.3 434.3,352.6 437.1,358.3 439.4,361.0 446.0,364.4 454.9,364.1 460.5,361.0 463.8,356.7 465.8,352.6 464.0,344.3 463.8,344.0" stroke="#f44040"/><polyline points="294.8,250.5 290.1,252.3 285.9,254.5 281.4,260.7 281.2,269.1 285.9,275.3 291.6,277.4 294.8,278.2 297.3,277.4 303.7,274.3 307.7,269.1 308.3,260.7 303.7,253.2 301.7,252.3 294.8,250.5" stroke="#f44040"/><polyline points="339.3,182.4 330.4,182.1 324.9,185.5 321.5,188.7 318.4,193.9 317.9,202.2 321.5,209.2 322.7,210.6 330.4,214.4 339.3,213.4 343.9,210.6 348.2,206.1 350.7,202.2 351.1,193.9 348.2,188.9 344.6,185.5 339.3,182.4" stroke="#f44040"/><polyline points="374.8,123.8 366.0,123.2 358.1,127.0 357.1,128.1 352.6,135.4 352.9,143.7 357.1,149.9 359.9,152.1 366.0,155.4 374.8,155.5 381.8,152.1 383.7,150.2 386.8,143.7 386.5,135.4 383.7,130.9 380.3,127.0 374.8,123.8" stroke="#f44040"/><polyline points="285.9,117.7 277.0,114.6 268.1,118.0 267.4,118.6 264.2,127.0 268.1,135.4 268.1,135.4 277.0,139.3 285.9,137.1 287.9,135.4 290.8,127.0 287.0,118.6 285.9,117.7" stroke="#f44040"/></g>
<g fill="#f6b8b8"><circle cx="463.8" cy="118.6" r="1.2"/><circle cx="472.7" cy="118.6" r="1.2"/><circle cx="463.8" cy="127.0" r="1.2"/><circle cx="472.7" cy="127.0" r="1.2"/><circle cx="463.8" cy="135.4" r="1.2"/><circle cx="472.7" cy="135.4" r="1.2"/><circle cx="463.8" cy="143.7" r="1.2"/><circle cx="472.7" cy="143.7" r="1.2"/><circle cx="463.8" cy="152.1" r="1.2"/><circle cx="472.7" cy="152.1" r="1.2"/><circle cx="463.8" cy="160.4" r="1.2"/><circle cx="472.7" cy="160.4" r="1.2"/><circle cx="463.8" cy="168.8" r="1.2"/><circle cx="472.7" cy="168.8" r="1.2"/><circle cx="463.8" cy="177.1" r="1.2"/><circle cx="472.7" cy="177.1" r="1.2"/><circle cx="463.8" cy="185.5" r="1.2"/><circle cx="472.7" cy="185.5" r="1.2"/><circle cx="463.8" cy="193.9" r="1.2"/><circle cx="472.7" cy="193.9" r="1.2"/><circle cx="410.4" cy="202.2" r="1.2"/><circle cx="419.3" cy="202.2" r="1.2"/><circle cx="428.2" cy="202.2" r="1.2"/><circle cx="463.8" cy="202.2" r="1.2"/><circle cx="472.7" cy="202.2" r="1.2"/><circle cx="410.4" cy="210.6" r="1.2"/><circle cx="419.3" cy="210.6" r="1.2"/><circle cx="428.2" cy="210.6" r="1.2"/><circle cx="454.9" cy="210.6" r="1.2"/><circle cx="463.8" cy="210.6" r="1.2"/><circle cx="472.7" cy="210.6" r="1.2"/><circle cx="321.5" cy="218.9" r="1.2"/><circle cx="330.4" cy="218.9" r="1.2"/><circle cx="339.3" cy="218.9" r="1.2"/><circle cx="348.2" cy="218.9" r="1.2"/><circle cx="357.1" cy="218.9" r="1.2"/><circle cx="366.0" cy="218.9" r="1.2"/><circle cx="374.8" cy="218.9" r="1.2"/><circle cx="383.7" cy="218.9" r="1.2"/><circle cx="392.6" cy="218.9" r="1.2"/><circle cx="401.5" cy="218.9" r="1.2"/><circle cx="410.4" cy="218.9" r="1.2"/><circle cx="419.3" cy="218.9" r="1.2"/><circle cx="428.2" cy="218.9" r="1.2"/><circle cx="454.9" cy="218.9" r="1.2"/><circle cx="463.8" cy="218.9" r="1.2"/><circle cx="472.7" cy="218.9" r="1.2"/><circle cx="330.4" cy="227.3" r="1.2"/><circle cx="339.3" cy="227.3" r="1.2"/><circle cx="348.2" cy="227.3" r="1.2"/><circle cx="357.1" cy="227.3" r="1.2"/><circle cx="366.0" cy="227.3" r="1.2"/><circle cx="374.8" cy="227.3" r="1.2"/><circle cx="383.7" cy="227.3" r="1.2"/><circle cx="392.6" cy="227.3" r="1.2"/><circle cx="401.5" cy="227.3" r="1.2"/><circle cx="410.4" cy="227.3" r="1.2"/><circle cx="419.3" cy="227.3" r="1.2"/><circle cx="428.2" cy="227.3" r="1.2"/><circle cx="454.9" cy="227.3" r="1.2"/><circle cx="463.8" cy="227.3" r="1.2"/><circle cx="472.7" cy="227.3" r="1.2"/><circle cx="339.3" cy="235.6" r="1.2"/><circle cx="348.2" cy="235.6" r="1.2"/><circle cx="357.1" cy="235.6" r="1.2"/><circle cx="366.0" cy="235.6" r="1.2"/><circle cx="374.8" cy="235.6" r="1.2"/><circle cx="383.7" cy="235.6" r="1.2"/><circle cx="392.6" cy="235.6" r="1.2"/><circle cx="401.5" cy="235.6" r="1.2"/><circle cx="410.4" cy="235.6" r="1.2"/><circle cx="419.3" cy="235.6" r="1.2"/><circle cx="428.2" cy="235.6" r="1.2"/><circle cx="339.3" cy="244.0" r="1.2"/><circle cx="348.2" cy="244.0" r="1.2"/><circle cx="357.1" cy="244.0" r="1.2"/><circle cx="366.0" cy="244.0" r="1.2"/><circle cx="374.8" cy="244.0" r="1.2"/><circle cx="383.7" cy="244.0" r="1.2"/><circle cx="392.6" cy="244.0" r="1.2"/><circle cx="401.5" cy="244.0" r="1.2"/><circle cx="410.4" cy="244.0" r="1.2"/><circle cx="419.3" cy="244.0" r="1.2"/><circle cx="428.2" cy="244.0" r="1.2"/><circle cx="348.2" cy="252.3" r="1.2"/><circle cx="357.1" cy="252.3" r="1.2"/><circle cx="366.0" cy="252.3" r="1.2"/><circle cx="374.8" cy="252.3" r="1.2"/><circle cx="383.7" cy="252.3" r="1.2"/><circle cx="392.6" cy="252.3" r="1.2"/><circle cx="401.5" cy="252.3" r="1.2"/><circle cx="410.4" cy="252.3" r="1.2"/><circle cx="419.3" cy="252.3" r="1.2"/><circle cx="428.2" cy="252.3" r="1.2"/><circle cx="348.2" cy="260.7" r="1.2"/><circle cx="357.1" cy="260.7" r="1.2"/><circle cx="366.0" cy="260.7" r="1.2"/><circle cx="374.8" cy="260.7" r="1.2"/><circle cx="383.7" cy="260.7" r="1.2"/><circle cx="392.6" cy="260.7" r="1.2"/><circle cx="401.5" cy="260.7" r="1.2"/><circle cx="410.4" cy="260.7" r="1.2"/><circle cx="419.3" cy="260.7" r="1.2"/><circle cx="428.2" cy="260.7" r="1.2"/><circle cx="357.1" cy="269.1" r="1.2"/><circle cx="366.0" cy="269.1" r="1.2"/><circle cx="374.8" cy="269.1" r="1.2"/><circle cx="383.7" cy="269.1" r="1.2"/><circle cx="392.6" cy="269.1" r="1.2"/><circle cx="401.5" cy="269.1" r="1.2"/></g>
<g fill="#f55a5a"><circle cx="99.1" cy="319.2" r="1.25"/><circle cx="108.0" cy="319.2" r="1.25"/><circle cx="116.9" cy="319.2" r="1.25"/><circle cx="125.8" cy="319.2" r="1.25"/><circle cx="134.7" cy="319.2" r="1.25"/><circle cx="143.6" cy="319.2" r="1.25"/><circle cx="152.4" cy="319.2" r="1.25"/><circle cx="161.3" cy="319.2" r="1.25"/><circle cx="170.2" cy="319.2" r="1.25"/><circle cx="179.1" cy="319.2" r="1.25"/><circle cx="188.0" cy="319.2" r="1.25"/><circle cx="196.9" cy="319.2" r="1.25"/><circle cx="205.8" cy="319.2" r="1.25"/><circle cx="214.7" cy="319.2" r="1.25"/><circle cx="223.6" cy="319.2" r="1.25"/><circle cx="99.1" cy="327.5" r="1.25"/><circle cx="108.0" cy="327.5" r="1.25"/><circle cx="116.9" cy="327.5" r="1.25"/><circle cx="125.8" cy="327.5" r="1.25"/><circle cx="134.7" cy="327.5" r="1.25"/><circle cx="143.6" cy="327.5" r="1.25"/><circle cx="152.4" cy="327.5" r="1.25"/><circle cx="161.3" cy="327.5" r="1.25"/><circle cx="170.2" cy="327.5" r="1.25"/><circle cx="179.1" cy="327.5" r="1.25"/><circle cx="188.0" cy="327.5" r="1.25"/><circle cx="196.9" cy="327.5" r="1.25"/><circle cx="205.8" cy="327.5" r="1.25"/><circle cx="214.7" cy="327.5" r="1.25"/><circle cx="223.6" cy="327.5" r="1.25"/><circle cx="232.5" cy="327.5" r="1.25"/><circle cx="99.1" cy="335.9" r="1.25"/><circle cx="108.0" cy="335.9" r="1.25"/><circle cx="116.9" cy="335.9" r="1.25"/><circle cx="125.8" cy="335.9" r="1.25"/><circle cx="134.7" cy="335.9" r="1.25"/><circle cx="143.6" cy="335.9" r="1.25"/><circle cx="152.4" cy="335.9" r="1.25"/><circle cx="161.3" cy="335.9" r="1.25"/><circle cx="170.2" cy="335.9" r="1.25"/><circle cx="179.1" cy="335.9" r="1.25"/><circle cx="188.0" cy="335.9" r="1.25"/><circle cx="196.9" cy="335.9" r="1.25"/><circle cx="205.8" cy="335.9" r="1.25"/><circle cx="214.7" cy="335.9" r="1.25"/><circle cx="223.6" cy="335.9" r="1.25"/><circle cx="232.5" cy="335.9" r="1.25"/><circle cx="241.4" cy="335.9" r="1.25"/><circle cx="250.3" cy="335.9" r="1.25"/><circle cx="90.2" cy="344.3" r="1.25"/><circle cx="99.1" cy="344.3" r="1.25"/><circle cx="108.0" cy="344.3" r="1.25"/><circle cx="116.9" cy="344.3" r="1.25"/><circle cx="125.8" cy="344.3" r="1.25"/><circle cx="134.7" cy="344.3" r="1.25"/><circle cx="143.6" cy="344.3" r="1.25"/><circle cx="152.4" cy="344.3" r="1.25"/><circle cx="161.3" cy="344.3" r="1.25"/><circle cx="170.2" cy="344.3" r="1.25"/><circle cx="179.1" cy="344.3" r="1.25"/><circle cx="188.0" cy="344.3" r="1.25"/><circle cx="196.9" cy="344.3" r="1.25"/><circle cx="205.8" cy="344.3" r="1.25"/><circle cx="214.7" cy="344.3" r="1.25"/><circle cx="223.6" cy="344.3" r="1.25"/><circle cx="232.5" cy="344.3" r="1.25"/><circle cx="241.4" cy="344.3" r="1.25"/><circle cx="250.3" cy="344.3" r="1.25"/><circle cx="90.2" cy="352.6" r="1.25"/><circle cx="99.1" cy="352.6" r="1.25"/><circle cx="108.0" cy="352.6" r="1.25"/><circle cx="116.9" cy="352.6" r="1.25"/><circle cx="125.8" cy="352.6" r="1.25"/><circle cx="134.7" cy="352.6" r="1.25"/><circle cx="143.6" cy="352.6" r="1.25"/><circle cx="152.4" cy="352.6" r="1.25"/><circle cx="161.3" cy="352.6" r="1.25"/><circle cx="170.2" cy="352.6" r="1.25"/><circle cx="179.1" cy="352.6" r="1.25"/><circle cx="188.0" cy="352.6" r="1.25"/><circle cx="196.9" cy="352.6" r="1.25"/><circle cx="205.8" cy="352.6" r="1.25"/><circle cx="214.7" cy="352.6" r="1.25"/><circle cx="223.6" cy="352.6" r="1.25"/><circle cx="232.5" cy="352.6" r="1.25"/><circle cx="241.4" cy="352.6" r="1.25"/><circle cx="250.3" cy="352.6" r="1.25"/><circle cx="90.2" cy="361.0" r="1.25"/><circle cx="99.1" cy="361.0" r="1.25"/><circle cx="108.0" cy="361.0" r="1.25"/><circle cx="116.9" cy="361.0" r="1.25"/><circle cx="125.8" cy="361.0" r="1.25"/><circle cx="134.7" cy="361.0" r="1.25"/><circle cx="143.6" cy="361.0" r="1.25"/><circle cx="152.4" cy="361.0" r="1.25"/><circle cx="161.3" cy="361.0" r="1.25"/><circle cx="170.2" cy="361.0" r="1.25"/><circle cx="179.1" cy="361.0" r="1.25"/><circle cx="188.0" cy="361.0" r="1.25"/><circle cx="196.9" cy="361.0" r="1.25"/><circle cx="205.8" cy="361.0" r="1.25"/><circle cx="214.7" cy="361.0" r="1.25"/><circle cx="223.6" cy="361.0" r="1.25"/><circle cx="232.5" cy="361.0" r="1.25"/><circle cx="241.4" cy="361.0" r="1.25"/><circle cx="250.3" cy="361.0" r="1.25"/><circle cx="90.2" cy="369.3" r="1.25"/><circle cx="99.1" cy="369.3" r="1.25"/><circle cx="108.0" cy="369.3" r="1.25"/><circle cx="116.9" cy="369.3" r="1.25"/><circle cx="125.8" cy="369.3" r="1.25"/><circle cx="134.7" cy="369.3" r="1.25"/><circle cx="143.6" cy="369.3" r="1.25"/><circle cx="152.4" cy="369.3" r="1.25"/><circle cx="161.3" cy="369.3" r="1.25"/><circle cx="170.2" cy="369.3" r="1.25"/><circle cx="179.1" cy="369.3" r="1.25"/><circle cx="188.0" cy="369.3" r="1.25"/><circle cx="196.9" cy="369.3" r="1.25"/><circle cx="205.8" cy="369.3" r="1.25"/><circle cx="214.7" cy="369.3" r="1.25"/><circle cx="223.6" cy="369.3" r="1.25"/><circle cx="232.5" cy="369.3" r="1.25"/><circle cx="241.4" cy="369.3" r="1.25"/><circle cx="250.3" cy="369.3" r="1.25"/><circle cx="90.2" cy="377.7" r="1.25"/><circle cx="99.1" cy="377.7" r="1.25"/><circle cx="108.0" cy="377.7" r="1.25"/><circle cx="116.9" cy="377.7" r="1.25"/><circle cx="125.8" cy="377.7" r="1.25"/><circle cx="134.7" cy="377.7" r="1.25"/><circle cx="143.6" cy="377.7" r="1.25"/><circle cx="152.4" cy="377.7" r="1.25"/><circle cx="161.3" cy="377.7" r="1.25"/><circle cx="170.2" cy="377.7" r="1.25"/><circle cx="179.1" cy="377.7" r="1.25"/><circle cx="188.0" cy="377.7" r="1.25"/><circle cx="196.9" cy="377.7" r="1.25"/><circle cx="205.8" cy="377.7" r="1.25"/><circle cx="214.7" cy="377.7" r="1.25"/><circle cx="223.6" cy="377.7" r="1.25"/><circle cx="232.5" cy="377.7" r="1.25"/><circle cx="241.4" cy="377.7" r="1.25"/><circle cx="250.3" cy="377.7" r="1.25"/><circle cx="90.2" cy="386.0" r="1.25"/><circle cx="99.1" cy="386.0" r="1.25"/><circle cx="108.0" cy="386.0" r="1.25"/><circle cx="116.9" cy="386.0" r="1.25"/><circle cx="125.8" cy="386.0" r="1.25"/><circle cx="134.7" cy="386.0" r="1.25"/><circle cx="143.6" cy="386.0" r="1.25"/><circle cx="152.4" cy="386.0" r="1.25"/><circle cx="161.3" cy="386.0" r="1.25"/><circle cx="170.2" cy="386.0" r="1.25"/><circle cx="179.1" cy="386.0" r="1.25"/><circle cx="188.0" cy="386.0" r="1.25"/><circle cx="196.9" cy="386.0" r="1.25"/><circle cx="205.8" cy="386.0" r="1.25"/><circle cx="214.7" cy="386.0" r="1.25"/><circle cx="223.6" cy="386.0" r="1.25"/><circle cx="232.5" cy="386.0" r="1.25"/><circle cx="241.4" cy="386.0" r="1.25"/><circle cx="250.3" cy="386.0" r="1.25"/><circle cx="90.2" cy="394.4" r="1.25"/><circle cx="99.1" cy="394.4" r="1.25"/><circle cx="108.0" cy="394.4" r="1.25"/><circle cx="116.9" cy="394.4" r="1.25"/><circle cx="125.8" cy="394.4" r="1.25"/><circle cx="134.7" cy="394.4" r="1.25"/><circle cx="143.6" cy="394.4" r="1.25"/><circle cx="152.4" cy="394.4" r="1.25"/><circle cx="161.3" cy="394.4" r="1.25"/><circle cx="170.2" cy="394.4" r="1.25"/><circle cx="179.1" cy="394.4" r="1.25"/><circle cx="188.0" cy="394.4" r="1.25"/><circle cx="196.9" cy="394.4" r="1.25"/><circle cx="205.8" cy="394.4" r="1.25"/><circle cx="214.7" cy="394.4" r="1.25"/><circle cx="223.6" cy="394.4" r="1.25"/><circle cx="232.5" cy="394.4" r="1.25"/><circle cx="241.4" cy="394.4" r="1.25"/><circle cx="250.3" cy="394.4" r="1.25"/><circle cx="90.2" cy="402.8" r="1.25"/><circle cx="99.1" cy="402.8" r="1.25"/><circle cx="108.0" cy="402.8" r="1.25"/><circle cx="116.9" cy="402.8" r="1.25"/><circle cx="125.8" cy="402.8" r="1.25"/><circle cx="134.7" cy="402.8" r="1.25"/><circle cx="143.6" cy="402.8" r="1.25"/><circle cx="152.4" cy="402.8" r="1.25"/><circle cx="161.3" cy="402.8" r="1.25"/><circle cx="170.2" cy="402.8" r="1.25"/><circle cx="179.1" cy="402.8" r="1.25"/><circle cx="188.0" cy="402.8" r="1.25"/><circle cx="196.9" cy="402.8" r="1.25"/><circle cx="205.8" cy="402.8" r="1.25"/><circle cx="214.7" cy="402.8" r="1.25"/><circle cx="223.6" cy="402.8" r="1.25"/><circle cx="232.5" cy="402.8" r="1.25"/><circle cx="241.4" cy="402.8" r="1.25"/><circle cx="250.3" cy="402.8" r="1.25"/><circle cx="99.1" cy="411.1" r="1.25"/><circle cx="108.0" cy="411.1" r="1.25"/><circle cx="116.9" cy="411.1" r="1.25"/><circle cx="125.8" cy="411.1" r="1.25"/><circle cx="134.7" cy="411.1" r="1.25"/><circle cx="143.6" cy="411.1" r="1.25"/><circle cx="152.4" cy="411.1" r="1.25"/><circle cx="161.3" cy="411.1" r="1.25"/><circle cx="170.2" cy="411.1" r="1.25"/><circle cx="179.1" cy="411.1" r="1.25"/><circle cx="188.0" cy="411.1" r="1.25"/><circle cx="196.9" cy="411.1" r="1.25"/><circle cx="205.8" cy="411.1" r="1.25"/><circle cx="214.7" cy="411.1" r="1.25"/><circle cx="223.6" cy="411.1" r="1.25"/><circle cx="232.5" cy="411.1" r="1.25"/><circle cx="241.4" cy="411.1" r="1.25"/><circle cx="250.3" cy="411.1" r="1.25"/><circle cx="99.1" cy="419.5" r="1.25"/><circle cx="108.0" cy="419.5" r="1.25"/><circle cx="116.9" cy="419.5" r="1.25"/><circle cx="125.8" cy="419.5" r="1.25"/><circle cx="134.7" cy="419.5" r="1.25"/><circle cx="143.6" cy="419.5" r="1.25"/><circle cx="152.4" cy="419.5" r="1.25"/><circle cx="161.3" cy="419.5" r="1.25"/><circle cx="170.2" cy="419.5" r="1.25"/><circle cx="179.1" cy="419.5" r="1.25"/><circle cx="188.0" cy="419.5" r="1.25"/><circle cx="196.9" cy="419.5" r="1.25"/><circle cx="205.8" cy="419.5" r="1.25"/><circle cx="214.7" cy="419.5" r="1.25"/><circle cx="223.6" cy="419.5" r="1.25"/><circle cx="232.5" cy="419.5" r="1.25"/><circle cx="241.4" cy="419.5" r="1.25"/><circle cx="250.3" cy="419.5" r="1.25"/><circle cx="99.1" cy="427.8" r="1.25"/><circle cx="108.0" cy="427.8" r="1.25"/><circle cx="116.9" cy="427.8" r="1.25"/><circle cx="125.8" cy="427.8" r="1.25"/><circle cx="134.7" cy="427.8" r="1.25"/><circle cx="143.6" cy="427.8" r="1.25"/><circle cx="152.4" cy="427.8" r="1.25"/><circle cx="161.3" cy="427.8" r="1.25"/><circle cx="170.2" cy="427.8" r="1.25"/><circle cx="179.1" cy="427.8" r="1.25"/><circle cx="188.0" cy="427.8" r="1.25"/><circle cx="196.9" cy="427.8" r="1.25"/><circle cx="205.8" cy="427.8" r="1.25"/><circle cx="214.7" cy="427.8" r="1.25"/><circle cx="223.6" cy="427.8" r="1.25"/><circle cx="232.5" cy="427.8" r="1.25"/><circle cx="241.4" cy="427.8" r="1.25"/><circle cx="250.3" cy="427.8" r="1.25"/><circle cx="99.1" cy="436.2" r="1.25"/><circle cx="108.0" cy="436.2" r="1.25"/><circle cx="116.9" cy="436.2" r="1.25"/><circle cx="125.8" cy="436.2" r="1.25"/><circle cx="134.7" cy="436.2" r="1.25"/><circle cx="143.6" cy="436.2" r="1.25"/><circle cx="152.4" cy="436.2" r="1.25"/><circle cx="161.3" cy="436.2" r="1.25"/><circle cx="170.2" cy="436.2" r="1.25"/><circle cx="179.1" cy="436.2" r="1.25"/><circle cx="188.0" cy="436.2" r="1.25"/><circle cx="196.9" cy="436.2" r="1.25"/><circle cx="205.8" cy="436.2" r="1.25"/><circle cx="214.7" cy="436.2" r="1.25"/><circle cx="223.6" cy="436.2" r="1.25"/><circle cx="232.5" cy="436.2" r="1.25"/><circle cx="241.4" cy="436.2" r="1.25"/><circle cx="250.3" cy="436.2" r="1.25"/><circle cx="99.1" cy="444.5" r="1.25"/><circle cx="108.0" cy="444.5" r="1.25"/><circle cx="116.9" cy="444.5" r="1.25"/><circle cx="125.8" cy="444.5" r="1.25"/><circle cx="134.7" cy="444.5" r="1.25"/><circle cx="143.6" cy="444.5" r="1.25"/><circle cx="152.4" cy="444.5" r="1.25"/><circle cx="161.3" cy="444.5" r="1.25"/><circle cx="170.2" cy="444.5" r="1.25"/><circle cx="179.1" cy="444.5" r="1.25"/><circle cx="188.0" cy="444.5" r="1.25"/><circle cx="196.9" cy="444.5" r="1.25"/><circle cx="205.8" cy="444.5" r="1.25"/><circle cx="214.7" cy="444.5" r="1.25"/><circle cx="223.6" cy="444.5" r="1.25"/><circle cx="232.5" cy="444.5" r="1.25"/><circle cx="241.4" cy="444.5" r="1.25"/><circle cx="250.3" cy="444.5" r="1.25"/><circle cx="99.1" cy="452.9" r="1.25"/><circle cx="108.0" cy="452.9" r="1.25"/><circle cx="116.9" cy="452.9" r="1.25"/><circle cx="125.8" cy="452.9" r="1.25"/><circle cx="134.7" cy="452.9" r="1.25"/><circle cx="143.6" cy="452.9" r="1.25"/><circle cx="152.4" cy="452.9" r="1.25"/><circle cx="161.3" cy="452.9" r="1.25"/><circle cx="170.2" cy="452.9" r="1.25"/><circle cx="179.1" cy="452.9" r="1.25"/><circle cx="188.0" cy="452.9" r="1.25"/><circle cx="196.9" cy="452.9" r="1.25"/><circle cx="205.8" cy="452.9" r="1.25"/><circle cx="214.7" cy="452.9" r="1.25"/><circle cx="223.6" cy="452.9" r="1.25"/><circle cx="232.5" cy="452.9" r="1.25"/><circle cx="241.4" cy="452.9" r="1.25"/><circle cx="250.3" cy="452.9" r="1.25"/><circle cx="108.0" cy="461.2" r="1.25"/><circle cx="116.9" cy="461.2" r="1.25"/><circle cx="125.8" cy="461.2" r="1.25"/><circle cx="134.7" cy="461.2" r="1.25"/><circle cx="143.6" cy="461.2" r="1.25"/><circle cx="152.4" cy="461.2" r="1.25"/><circle cx="161.3" cy="461.2" r="1.25"/><circle cx="170.2" cy="461.2" r="1.25"/><circle cx="179.1" cy="461.2" r="1.25"/><circle cx="188.0" cy="461.2" r="1.25"/><circle cx="196.9" cy="461.2" r="1.25"/><circle cx="205.8" cy="461.2" r="1.25"/><circle cx="214.7" cy="461.2" r="1.25"/><circle cx="223.6" cy="461.2" r="1.25"/><circle cx="232.5" cy="461.2" r="1.25"/><circle cx="241.4" cy="461.2" r="1.25"/><circle cx="250.3" cy="461.2" r="1.25"/></g>
<g fill="#ff1a1a"><circle cx="143.6" cy="51.8" r="1.35"/><circle cx="152.4" cy="51.8" r="1.35"/><circle cx="161.3" cy="51.8" r="1.35"/><circle cx="170.2" cy="51.8" r="1.35"/><circle cx="179.1" cy="51.8" r="1.35"/><circle cx="188.0" cy="51.8" r="1.35"/><circle cx="196.9" cy="51.8" r="1.35"/><circle cx="205.8" cy="51.8" r="1.35"/><circle cx="214.7" cy="51.8" r="1.35"/><circle cx="223.6" cy="51.8" r="1.35"/><circle cx="232.5" cy="51.8" r="1.35"/><circle cx="241.4" cy="51.8" r="1.35"/><circle cx="250.3" cy="51.8" r="1.35"/><circle cx="259.2" cy="51.8" r="1.35"/><circle cx="268.1" cy="51.8" r="1.35"/><circle cx="277.0" cy="51.8" r="1.35"/><circle cx="285.9" cy="51.8" r="1.35"/><circle cx="134.7" cy="60.2" r="1.35"/><circle cx="143.6" cy="60.2" r="1.35"/><circle cx="152.4" cy="60.2" r="1.35"/><circle cx="161.3" cy="60.2" r="1.35"/><circle cx="170.2" cy="60.2" r="1.35"/><circle cx="179.1" cy="60.2" r="1.35"/><circle cx="188.0" cy="60.2" r="1.35"/><circle cx="196.9" cy="60.2" r="1.35"/><circle cx="205.8" cy="60.2" r="1.35"/><circle cx="214.7" cy="60.2" r="1.35"/><circle cx="223.6" cy="60.2" r="1.35"/><circle cx="232.5" cy="60.2" r="1.35"/><circle cx="241.4" cy="60.2" r="1.35"/><circle cx="250.3" cy="60.2" r="1.35"/><circle cx="259.2" cy="60.2" r="1.35"/><circle cx="268.1" cy="60.2" r="1.35"/><circle cx="277.0" cy="60.2" r="1.35"/><circle cx="285.9" cy="60.2" r="1.35"/><circle cx="294.8" cy="60.2" r="1.35"/><circle cx="339.3" cy="60.2" r="1.35"/><circle cx="348.2" cy="60.2" r="1.35"/><circle cx="357.1" cy="60.2" r="1.35"/><circle cx="366.0" cy="60.2" r="1.35"/><circle cx="374.8" cy="60.2" r="1.35"/><circle cx="383.7" cy="60.2" r="1.35"/><circle cx="392.6" cy="60.2" r="1.35"/><circle cx="401.5" cy="60.2" r="1.35"/><circle cx="134.7" cy="68.5" r="1.35"/><circle cx="143.6" cy="68.5" r="1.35"/><circle cx="152.4" cy="68.5" r="1.35"/><circle cx="161.3" cy="68.5" r="1.35"/><circle cx="170.2" cy="68.5" r="1.35"/><circle cx="179.1" cy="68.5" r="1.35"/><circle cx="188.0" cy="68.5" r="1.35"/><circle cx="196.9" cy="68.5" r="1.35"/><circle cx="205.8" cy="68.5" r="1.35"/><circle cx="214.7" cy="68.5" r="1.35"/><circle cx="223.6" cy="68.5" r="1.35"/><circle cx="232.5" cy="68.5" r="1.35"/><circle cx="241.4" cy="68.5" r="1.35"/><circle cx="250.3" cy="68.5" r="1.35"/><circle cx="259.2" cy="68.5" r="1.35"/><circle cx="268.1" cy="68.5" r="1.35"/><circle cx="277.0" cy="68.5" r="1.35"/><circle cx="285.9" cy="68.5" r="1.35"/><circle cx="294.8" cy="68.5" r="1.35"/><circle cx="303.7" cy="68.5" r="1.35"/><circle cx="312.6" cy="68.5" r="1.35"/><circle cx="321.5" cy="68.5" r="1.35"/><circle cx="330.4" cy="68.5" r="1.35"/><circle cx="339.3" cy="68.5" r="1.35"/><circle cx="348.2" cy="68.5" r="1.35"/><circle cx="357.1" cy="68.5" r="1.35"/><circle cx="366.0" cy="68.5" r="1.35"/><circle cx="374.8" cy="68.5" r="1.35"/><circle cx="383.7" cy="68.5" r="1.35"/><circle cx="392.6" cy="68.5" r="1.35"/><circle cx="401.5" cy="68.5" r="1.35"/><circle cx="410.4" cy="68.5" r="1.35"/><circle cx="419.3" cy="68.5" r="1.35"/><circle cx="428.2" cy="68.5" r="1.35"/><circle cx="437.1" cy="68.5" r="1.35"/><circle cx="134.7" cy="76.9" r="1.35"/><circle cx="143.6" cy="76.9" r="1.35"/><circle cx="152.4" cy="76.9" r="1.35"/><circle cx="161.3" cy="76.9" r="1.35"/><circle cx="170.2" cy="76.9" r="1.35"/><circle cx="179.1" cy="76.9" r="1.35"/><circle cx="188.0" cy="76.9" r="1.35"/><circle cx="196.9" cy="76.9" r="1.35"/><circle cx="205.8" cy="76.9" r="1.35"/><circle cx="214.7" cy="76.9" r="1.35"/><circle cx="223.6" cy="76.9" r="1.35"/><circle cx="232.5" cy="76.9" r="1.35"/><circle cx="241.4" cy="76.9" r="1.35"/><circle cx="250.3" cy="76.9" r="1.35"/><circle cx="259.2" cy="76.9" r="1.35"/><circle cx="268.1" cy="76.9" r="1.35"/><circle cx="277.0" cy="76.9" r="1.35"/><circle cx="285.9" cy="76.9" r="1.35"/><circle cx="294.8" cy="76.9" r="1.35"/><circle cx="303.7" cy="76.9" r="1.35"/><circle cx="312.6" cy="76.9" r="1.35"/><circle cx="321.5" cy="76.9" r="1.35"/><circle cx="330.4" cy="76.9" r="1.35"/><circle cx="339.3" cy="76.9" r="1.35"/><circle cx="348.2" cy="76.9" r="1.35"/><circle cx="357.1" cy="76.9" r="1.35"/><circle cx="366.0" cy="76.9" r="1.35"/><circle cx="374.8" cy="76.9" r="1.35"/><circle cx="383.7" cy="76.9" r="1.35"/><circle cx="392.6" cy="76.9" r="1.35"/><circle cx="401.5" cy="76.9" r="1.35"/><circle cx="410.4" cy="76.9" r="1.35"/><circle cx="419.3" cy="76.9" r="1.35"/><circle cx="428.2" cy="76.9" r="1.35"/><circle cx="437.1" cy="76.9" r="1.35"/><circle cx="446.0" cy="76.9" r="1.35"/><circle cx="134.7" cy="85.2" r="1.35"/><circle cx="143.6" cy="85.2" r="1.35"/><circle cx="152.4" cy="85.2" r="1.35"/><circle cx="161.3" cy="85.2" r="1.35"/><circle cx="170.2" cy="85.2" r="1.35"/><circle cx="179.1" cy="85.2" r="1.35"/><circle cx="188.0" cy="85.2" r="1.35"/><circle cx="196.9" cy="85.2" r="1.35"/><circle cx="205.8" cy="85.2" r="1.35"/><circle cx="214.7" cy="85.2" r="1.35"/><circle cx="223.6" cy="85.2" r="1.35"/><circle cx="232.5" cy="85.2" r="1.35"/><circle cx="241.4" cy="85.2" r="1.35"/><circle cx="250.3" cy="85.2" r="1.35"/><circle cx="259.2" cy="85.2" r="1.35"/><circle cx="268.1" cy="85.2" r="1.35"/><circle cx="277.0" cy="85.2" r="1.35"/><circle cx="285.9" cy="85.2" r="1.35"/><circle cx="294.8" cy="85.2" r="1.35"/><circle cx="303.7" cy="85.2" r="1.35"/><circle cx="312.6" cy="85.2" r="1.35"/><circle cx="321.5" cy="85.2" r="1.35"/><circle cx="330.4" cy="85.2" r="1.35"/><circle cx="339.3" cy="85.2" r="1.35"/><circle cx="348.2" cy="85.2" r="1.35"/><circle cx="357.1" cy="85.2" r="1.35"/><circle cx="366.0" cy="85.2" r="1.35"/><circle cx="374.8" cy="85.2" r="1.35"/><circle cx="383.7" cy="85.2" r="1.35"/><circle cx="392.6" cy="85.2" r="1.35"/><circle cx="401.5" cy="85.2" r="1.35"/><circle cx="410.4" cy="85.2" r="1.35"/><circle cx="419.3" cy="85.2" r="1.35"/><circle cx="428.2" cy="85.2" r="1.35"/><circle cx="437.1" cy="85.2" r="1.35"/><circle cx="446.0" cy="85.2" r="1.35"/><circle cx="125.8" cy="93.6" r="1.35"/><circle cx="134.7" cy="93.6" r="1.35"/><circle cx="143.6" cy="93.6" r="1.35"/><circle cx="152.4" cy="93.6" r="1.35"/><circle cx="161.3" cy="93.6" r="1.35"/><circle cx="170.2" cy="93.6" r="1.35"/><circle cx="179.1" cy="93.6" r="1.35"/><circle cx="188.0" cy="93.6" r="1.35"/><circle cx="196.9" cy="93.6" r="1.35"/><circle cx="205.8" cy="93.6" r="1.35"/><circle cx="214.7" cy="93.6" r="1.35"/><circle cx="223.6" cy="93.6" r="1.35"/><circle cx="232.5" cy="93.6" r="1.35"/><circle cx="241.4" cy="93.6" r="1.35"/><circle cx="250.3" cy="93.6" r="1.35"/><circle cx="259.2" cy="93.6" r="1.35"/><circle cx="268.1" cy="93.6" r="1.35"/><circle cx="277.0" cy="93.6" r="1.35"/><circle cx="285.9" cy="93.6" r="1.35"/><circle cx="294.8" cy="93.6" r="1.35"/><circle cx="303.7" cy="93.6" r="1.35"/><circle cx="312.6" cy="93.6" r="1.35"/><circle cx="321.5" cy="93.6" r="1.35"/><circle cx="330.4" cy="93.6" r="1.35"/><circle cx="339.3" cy="93.6" r="1.35"/><circle cx="348.2" cy="93.6" r="1.35"/><circle cx="357.1" cy="93.6" r="1.35"/><circle cx="366.0" cy="93.6" r="1.35"/><circle cx="374.8" cy="93.6" r="1.35"/><circle cx="383.7" cy="93.6" r="1.35"/><circle cx="392.6" cy="93.6" r="1.35"/><circle cx="401.5" cy="93.6" r="1.35"/><circle cx="410.4" cy="93.6" r="1.35"/><circle cx="419.3" cy="93.6" r="1.35"/><circle cx="428.2" cy="93.6" r="1.35"/><circle cx="437.1" cy="93.6" r="1.35"/><circle cx="134.7" cy="101.9" r="1.35"/><circle cx="143.6" cy="101.9" r="1.35"/><circle cx="152.4" cy="101.9" r="1.35"/><circle cx="161.3" cy="101.9" r="1.35"/><circle cx="170.2" cy="101.9" r="1.35"/><circle cx="179.1" cy="101.9" r="1.35"/><circle cx="188.0" cy="101.9" r="1.35"/><circle cx="196.9" cy="101.9" r="1.35"/><circle cx="205.8" cy="101.9" r="1.35"/><circle cx="214.7" cy="101.9" r="1.35"/><circle cx="223.6" cy="101.9" r="1.35"/><circle cx="232.5" cy="101.9" r="1.35"/><circle cx="241.4" cy="101.9" r="1.35"/><circle cx="250.3" cy="101.9" r="1.35"/><circle cx="259.2" cy="101.9" r="1.35"/><circle cx="268.1" cy="101.9" r="1.35"/><circle cx="277.0" cy="101.9" r="1.35"/><circle cx="285.9" cy="101.9" r="1.35"/><circle cx="294.8" cy="101.9" r="1.35"/><circle cx="303.7" cy="101.9" r="1.35"/><circle cx="312.6" cy="101.9" r="1.35"/><circle cx="321.5" cy="101.9" r="1.35"/><circle cx="330.4" cy="101.9" r="1.35"/><circle cx="339.3" cy="101.9" r="1.35"/><circle cx="348.2" cy="101.9" r="1.35"/><circle cx="357.1" cy="101.9" r="1.35"/><circle cx="366.0" cy="101.9" r="1.35"/><circle cx="374.8" cy="101.9" r="1.35"/><circle cx="383.7" cy="101.9" r="1.35"/><circle cx="392.6" cy="101.9" r="1.35"/><circle cx="401.5" cy="101.9" r="1.35"/><circle cx="410.4" cy="101.9" r="1.35"/><circle cx="419.3" cy="101.9" r="1.35"/><circle cx="428.2" cy="101.9" r="1.35"/><circle cx="437.1" cy="101.9" r="1.35"/><circle cx="134.7" cy="110.3" r="1.35"/><circle cx="143.6" cy="110.3" r="1.35"/><circle cx="152.4" cy="110.3" r="1.35"/><circle cx="161.3" cy="110.3" r="1.35"/><circle cx="170.2" cy="110.3" r="1.35"/><circle cx="179.1" cy="110.3" r="1.35"/><circle cx="188.0" cy="110.3" r="1.35"/><circle cx="196.9" cy="110.3" r="1.35"/><circle cx="205.8" cy="110.3" r="1.35"/><circle cx="214.7" cy="110.3" r="1.35"/><circle cx="223.6" cy="110.3" r="1.35"/><circle cx="232.5" cy="110.3" r="1.35"/><circle cx="241.4" cy="110.3" r="1.35"/><circle cx="250.3" cy="110.3" r="1.35"/><circle cx="259.2" cy="110.3" r="1.35"/><circle cx="268.1" cy="110.3" r="1.35"/><circle cx="277.0" cy="110.3" r="1.35"/><circle cx="285.9" cy="110.3" r="1.35"/><circle cx="294.8" cy="110.3" r="1.35"/><circle cx="303.7" cy="110.3" r="1.35"/><circle cx="312.6" cy="110.3" r="1.35"/><circle cx="321.5" cy="110.3" r="1.35"/><circle cx="330.4" cy="110.3" r="1.35"/><circle cx="339.3" cy="110.3" r="1.35"/><circle cx="348.2" cy="110.3" r="1.35"/><circle cx="357.1" cy="110.3" r="1.35"/><circle cx="366.0" cy="110.3" r="1.35"/><circle cx="374.8" cy="110.3" r="1.35"/><circle cx="383.7" cy="110.3" r="1.35"/><circle cx="392.6" cy="110.3" r="1.35"/><circle cx="401.5" cy="110.3" r="1.35"/><circle cx="410.4" cy="110.3" r="1.35"/><circle cx="419.3" cy="110.3" r="1.35"/><circle cx="428.2" cy="110.3" r="1.35"/><circle cx="437.1" cy="110.3" r="1.35"/><circle cx="134.7" cy="118.6" r="1.35"/><circle cx="143.6" cy="118.6" r="1.35"/><circle cx="152.4" cy="118.6" r="1.35"/><circle cx="161.3" cy="118.6" r="1.35"/><circle cx="170.2" cy="118.6" r="1.35"/><circle cx="179.1" cy="118.6" r="1.35"/><circle cx="188.0" cy="118.6" r="1.35"/><circle cx="196.9" cy="118.6" r="1.35"/><circle cx="205.8" cy="118.6" r="1.35"/><circle cx="214.7" cy="118.6" r="1.35"/><circle cx="223.6" cy="118.6" r="1.35"/><circle cx="232.5" cy="118.6" r="1.35"/><circle cx="241.4" cy="118.6" r="1.35"/><circle cx="250.3" cy="118.6" r="1.35"/><circle cx="259.2" cy="118.6" r="1.35"/><circle cx="268.1" cy="118.6" r="1.35"/><circle cx="277.0" cy="118.6" r="1.35"/><circle cx="285.9" cy="118.6" r="1.35"/><circle cx="294.8" cy="118.6" r="1.35"/><circle cx="303.7" cy="118.6" r="1.35"/><circle cx="312.6" cy="118.6" r="1.35"/><circle cx="321.5" cy="118.6" r="1.35"/><circle cx="330.4" cy="118.6" r="1.35"/><circle cx="339.3" cy="118.6" r="1.35"/><circle cx="348.2" cy="118.6" r="1.35"/><circle cx="357.1" cy="118.6" r="1.35"/><circle cx="366.0" cy="118.6" r="1.35"/><circle cx="374.8" cy="118.6" r="1.35"/><circle cx="383.7" cy="118.6" r="1.35"/><circle cx="392.6" cy="118.6" r="1.35"/><circle cx="401.5" cy="118.6" r="1.35"/><circle cx="410.4" cy="118.6" r="1.35"/><circle cx="419.3" cy="118.6" r="1.35"/><circle cx="428.2" cy="118.6" r="1.35"/><circle cx="134.7" cy="127.0" r="1.35"/><circle cx="143.6" cy="127.0" r="1.35"/><circle cx="152.4" cy="127.0" r="1.35"/><circle cx="161.3" cy="127.0" r="1.35"/><circle cx="170.2" cy="127.0" r="1.35"/><circle cx="179.1" cy="127.0" r="1.35"/><circle cx="188.0" cy="127.0" r="1.35"/><circle cx="196.9" cy="127.0" r="1.35"/><circle cx="205.8" cy="127.0" r="1.35"/><circle cx="214.7" cy="127.0" r="1.35"/><circle cx="223.6" cy="127.0" r="1.35"/><circle cx="232.5" cy="127.0" r="1.35"/><circle cx="241.4" cy="127.0" r="1.35"/><circle cx="250.3" cy="127.0" r="1.35"/><circle cx="259.2" cy="127.0" r="1.35"/><circle cx="268.1" cy="127.0" r="1.35"/><circle cx="277.0" cy="127.0" r="1.35"/><circle cx="285.9" cy="127.0" r="1.35"/><circle cx="294.8" cy="127.0" r="1.35"/><circle cx="303.7" cy="127.0" r="1.35"/><circle cx="312.6" cy="127.0" r="1.35"/><circle cx="321.5" cy="127.0" r="1.35"/><circle cx="330.4" cy="127.0" r="1.35"/><circle cx="339.3" cy="127.0" r="1.35"/><circle cx="348.2" cy="127.0" r="1.35"/><circle cx="357.1" cy="127.0" r="1.35"/><circle cx="366.0" cy="127.0" r="1.35"/><circle cx="374.8" cy="127.0" r="1.35"/><circle cx="383.7" cy="127.0" r="1.35"/><circle cx="392.6" cy="127.0" r="1.35"/><circle cx="401.5" cy="127.0" r="1.35"/><circle cx="410.4" cy="127.0" r="1.35"/><circle cx="419.3" cy="127.0" r="1.35"/><circle cx="428.2" cy="127.0" r="1.35"/><circle cx="134.7" cy="135.4" r="1.35"/><circle cx="143.6" cy="135.4" r="1.35"/><circle cx="152.4" cy="135.4" r="1.35"/><circle cx="161.3" cy="135.4" r="1.35"/><circle cx="170.2" cy="135.4" r="1.35"/><circle cx="179.1" cy="135.4" r="1.35"/><circle cx="188.0" cy="135.4" r="1.35"/><circle cx="196.9" cy="135.4" r="1.35"/><circle cx="205.8" cy="135.4" r="1.35"/><circle cx="214.7" cy="135.4" r="1.35"/><circle cx="223.6" cy="135.4" r="1.35"/><circle cx="232.5" cy="135.4" r="1.35"/><circle cx="241.4" cy="135.4" r="1.35"/><circle cx="250.3" cy="135.4" r="1.35"/><circle cx="259.2" cy="135.4" r="1.35"/><circle cx="268.1" cy="135.4" r="1.35"/><circle cx="277.0" cy="135.4" r="1.35"/><circle cx="285.9" cy="135.4" r="1.35"/><circle cx="294.8" cy="135.4" r="1.35"/><circle cx="303.7" cy="135.4" r="1.35"/><circle cx="312.6" cy="135.4" r="1.35"/><circle cx="321.5" cy="135.4" r="1.35"/><circle cx="330.4" cy="135.4" r="1.35"/><circle cx="339.3" cy="135.4" r="1.35"/><circle cx="348.2" cy="135.4" r="1.35"/><circle cx="357.1" cy="135.4" r="1.35"/><circle cx="366.0" cy="135.4" r="1.35"/><circle cx="374.8" cy="135.4" r="1.35"/><circle cx="383.7" cy="135.4" r="1.35"/><circle cx="392.6" cy="135.4" r="1.35"/><circle cx="401.5" cy="135.4" r="1.35"/><circle cx="410.4" cy="135.4" r="1.35"/><circle cx="419.3" cy="135.4" r="1.35"/><circle cx="428.2" cy="135.4" r="1.35"/><circle cx="143.6" cy="143.7" r="1.35"/><circle cx="152.4" cy="143.7" r="1.35"/><circle cx="161.3" cy="143.7" r="1.35"/><circle cx="170.2" cy="143.7" r="1.35"/><circle cx="179.1" cy="143.7" r="1.35"/><circle cx="188.0" cy="143.7" r="1.35"/><circle cx="196.9" cy="143.7" r="1.35"/><circle cx="205.8" cy="143.7" r="1.35"/><circle cx="214.7" cy="143.7" r="1.35"/><circle cx="223.6" cy="143.7" r="1.35"/><circle cx="232.5" cy="143.7" r="1.35"/><circle cx="241.4" cy="143.7" r="1.35"/><circle cx="250.3" cy="143.7" r="1.35"/><circle cx="259.2" cy="143.7" r="1.35"/><circle cx="268.1" cy="143.7" r="1.35"/><circle cx="277.0" cy="143.7" r="1.35"/><circle cx="285.9" cy="143.7" r="1.35"/><circle cx="294.8" cy="143.7" r="1.35"/><circle cx="303.7" cy="143.7" r="1.35"/><circle cx="312.6" cy="143.7" r="1.35"/><circle cx="321.5" cy="143.7" r="1.35"/><circle cx="330.4" cy="143.7" r="1.35"/><circle cx="339.3" cy="143.7" r="1.35"/><circle cx="348.2" cy="143.7" r="1.35"/><circle cx="357.1" cy="143.7" r="1.35"/><circle cx="366.0" cy="143.7" r="1.35"/><circle cx="374.8" cy="143.7" r="1.35"/><circle cx="383.7" cy="143.7" r="1.35"/><circle cx="392.6" cy="143.7" r="1.35"/><circle cx="401.5" cy="143.7" r="1.35"/><circle cx="410.4" cy="143.7" r="1.35"/><circle cx="419.3" cy="143.7" r="1.35"/><circle cx="428.2" cy="143.7" r="1.35"/><circle cx="152.4" cy="152.1" r="1.35"/><circle cx="161.3" cy="152.1" r="1.35"/><circle cx="170.2" cy="152.1" r="1.35"/><circle cx="179.1" cy="152.1" r="1.35"/><circle cx="188.0" cy="152.1" r="1.35"/><circle cx="196.9" cy="152.1" r="1.35"/><circle cx="205.8" cy="152.1" r="1.35"/><circle cx="214.7" cy="152.1" r="1.35"/><circle cx="223.6" cy="152.1" r="1.35"/><circle cx="232.5" cy="152.1" r="1.35"/><circle cx="241.4" cy="152.1" r="1.35"/><circle cx="250.3" cy="152.1" r="1.35"/><circle cx="259.2" cy="152.1" r="1.35"/><circle cx="268.1" cy="152.1" r="1.35"/><circle cx="277.0" cy="152.1" r="1.35"/><circle cx="285.9" cy="152.1" r="1.35"/><circle cx="294.8" cy="152.1" r="1.35"/><circle cx="303.7" cy="152.1" r="1.35"/><circle cx="312.6" cy="152.1" r="1.35"/><circle cx="321.5" cy="152.1" r="1.35"/><circle cx="330.4" cy="152.1" r="1.35"/><circle cx="339.3" cy="152.1" r="1.35"/><circle cx="348.2" cy="152.1" r="1.35"/><circle cx="357.1" cy="152.1" r="1.35"/><circle cx="366.0" cy="152.1" r="1.35"/><circle cx="374.8" cy="152.1" r="1.35"/><circle cx="383.7" cy="152.1" r="1.35"/><circle cx="392.6" cy="152.1" r="1.35"/><circle cx="401.5" cy="152.1" r="1.35"/><circle cx="410.4" cy="152.1" r="1.35"/><circle cx="419.3" cy="152.1" r="1.35"/><circle cx="428.2" cy="152.1" r="1.35"/><circle cx="81.3" cy="160.4" r="1.35"/><circle cx="90.2" cy="160.4" r="1.35"/><circle cx="99.1" cy="160.4" r="1.35"/><circle cx="108.0" cy="160.4" r="1.35"/><circle cx="116.9" cy="160.4" r="1.35"/><circle cx="125.8" cy="160.4" r="1.35"/><circle cx="161.3" cy="160.4" r="1.35"/><circle cx="170.2" cy="160.4" r="1.35"/><circle cx="179.1" cy="160.4" r="1.35"/><circle cx="188.0" cy="160.4" r="1.35"/><circle cx="196.9" cy="160.4" r="1.35"/><circle cx="205.8" cy="160.4" r="1.35"/><circle cx="214.7" cy="160.4" r="1.35"/><circle cx="223.6" cy="160.4" r="1.35"/><circle cx="232.5" cy="160.4" r="1.35"/><circle cx="241.4" cy="160.4" r="1.35"/><circle cx="250.3" cy="160.4" r="1.35"/><circle cx="259.2" cy="160.4" r="1.35"/><circle cx="268.1" cy="160.4" r="1.35"/><circle cx="277.0" cy="160.4" r="1.35"/><circle cx="285.9" cy="160.4" r="1.35"/><circle cx="294.8" cy="160.4" r="1.35"/><circle cx="303.7" cy="160.4" r="1.35"/><circle cx="312.6" cy="160.4" r="1.35"/><circle cx="321.5" cy="160.4" r="1.35"/><circle cx="330.4" cy="160.4" r="1.35"/><circle cx="339.3" cy="160.4" r="1.35"/><circle cx="348.2" cy="160.4" r="1.35"/><circle cx="357.1" cy="160.4" r="1.35"/><circle cx="366.0" cy="160.4" r="1.35"/><circle cx="374.8" cy="160.4" r="1.35"/><circle cx="383.7" cy="160.4" r="1.35"/><circle cx="392.6" cy="160.4" r="1.35"/><circle cx="401.5" cy="160.4" r="1.35"/><circle cx="410.4" cy="160.4" r="1.35"/><circle cx="419.3" cy="160.4" r="1.35"/><circle cx="428.2" cy="160.4" r="1.35"/><circle cx="63.5" cy="168.8" r="1.35"/><circle cx="72.4" cy="168.8" r="1.35"/><circle cx="81.3" cy="168.8" r="1.35"/><circle cx="90.2" cy="168.8" r="1.35"/><circle cx="99.1" cy="168.8" r="1.35"/><circle cx="108.0" cy="168.8" r="1.35"/><circle cx="116.9" cy="168.8" r="1.35"/><circle cx="125.8" cy="168.8" r="1.35"/><circle cx="134.7" cy="168.8" r="1.35"/><circle cx="143.6" cy="168.8" r="1.35"/><circle cx="179.1" cy="168.8" r="1.35"/><circle cx="188.0" cy="168.8" r="1.35"/><circle cx="196.9" cy="168.8" r="1.35"/><circle cx="205.8" cy="168.8" r="1.35"/><circle cx="214.7" cy="168.8" r="1.35"/><circle cx="223.6" cy="168.8" r="1.35"/><circle cx="232.5" cy="168.8" r="1.35"/><circle cx="241.4" cy="168.8" r="1.35"/><circle cx="250.3" cy="168.8" r="1.35"/><circle cx="259.2" cy="168.8" r="1.35"/><circle cx="268.1" cy="168.8" r="1.35"/><circle cx="277.0" cy="168.8" r="1.35"/><circle cx="285.9" cy="168.8" r="1.35"/><circle cx="294.8" cy="168.8" r="1.35"/><circle cx="303.7" cy="168.8" r="1.35"/><circle cx="312.6" cy="168.8" r="1.35"/><circle cx="321.5" cy="168.8" r="1.35"/><circle cx="330.4" cy="168.8" r="1.35"/><circle cx="339.3" cy="168.8" r="1.35"/><circle cx="348.2" cy="168.8" r="1.35"/><circle cx="357.1" cy="168.8" r="1.35"/><circle cx="366.0" cy="168.8" r="1.35"/><circle cx="374.8" cy="168.8" r="1.35"/><circle cx="383.7" cy="168.8" r="1.35"/><circle cx="392.6" cy="168.8" r="1.35"/><circle cx="401.5" cy="168.8" r="1.35"/><circle cx="410.4" cy="168.8" r="1.35"/><circle cx="419.3" cy="168.8" r="1.35"/><circle cx="428.2" cy="168.8" r="1.35"/><circle cx="45.7" cy="177.1" r="1.35"/><circle cx="54.6" cy="177.1" r="1.35"/><circle cx="63.5" cy="177.1" r="1.35"/><circle cx="72.4" cy="177.1" r="1.35"/><circle cx="81.3" cy="177.1" r="1.35"/><circle cx="90.2" cy="177.1" r="1.35"/><circle cx="99.1" cy="177.1" r="1.35"/><circle cx="108.0" cy="177.1" r="1.35"/><circle cx="116.9" cy="177.1" r="1.35"/><circle cx="125.8" cy="177.1" r="1.35"/><circle cx="134.7" cy="177.1" r="1.35"/><circle cx="143.6" cy="177.1" r="1.35"/><circle cx="152.4" cy="177.1" r="1.35"/><circle cx="161.3" cy="177.1" r="1.35"/><circle cx="294.8" cy="177.1" r="1.35"/><circle cx="303.7" cy="177.1" r="1.35"/><circle cx="312.6" cy="177.1" r="1.35"/><circle cx="321.5" cy="177.1" r="1.35"/><circle cx="330.4" cy="177.1" r="1.35"/><circle cx="339.3" cy="177.1" r="1.35"/><circle cx="348.2" cy="177.1" r="1.35"/><circle cx="357.1" cy="177.1" r="1.35"/><circle cx="366.0" cy="177.1" r="1.35"/><circle cx="374.8" cy="177.1" r="1.35"/><circle cx="383.7" cy="177.1" r="1.35"/><circle cx="392.6" cy="177.1" r="1.35"/><circle cx="401.5" cy="177.1" r="1.35"/><circle cx="410.4" cy="177.1" r="1.35"/><circle cx="419.3" cy="177.1" r="1.35"/><circle cx="428.2" cy="177.1" r="1.35"/><circle cx="45.7" cy="185.5" r="1.35"/><circle cx="54.6" cy="185.5" r="1.35"/><circle cx="63.5" cy="185.5" r="1.35"/><circle cx="72.4" cy="185.5" r="1.35"/><circle cx="81.3" cy="185.5" r="1.35"/><circle cx="90.2" cy="185.5" r="1.35"/><circle cx="99.1" cy="185.5" r="1.35"/><circle cx="108.0" cy="185.5" r="1.35"/><circle cx="116.9" cy="185.5" r="1.35"/><circle cx="125.8" cy="185.5" r="1.35"/><circle cx="134.7" cy="185.5" r="1.35"/><circle cx="143.6" cy="185.5" r="1.35"/><circle cx="152.4" cy="185.5" r="1.35"/><circle cx="161.3" cy="185.5" r="1.35"/><circle cx="170.2" cy="185.5" r="1.35"/><circle cx="303.7" cy="185.5" r="1.35"/><circle cx="312.6" cy="185.5" r="1.35"/><circle cx="321.5" cy="185.5" r="1.35"/><circle cx="330.4" cy="185.5" r="1.35"/><circle cx="339.3" cy="185.5" r="1.35"/><circle cx="348.2" cy="185.5" r="1.35"/><circle cx="357.1" cy="185.5" r="1.35"/><circle cx="366.0" cy="185.5" r="1.35"/><circle cx="374.8" cy="185.5" r="1.35"/><circle cx="383.7" cy="185.5" r="1.35"/><circle cx="392.6" cy="185.5" r="1.35"/><circle cx="401.5" cy="185.5" r="1.35"/><circle cx="410.4" cy="185.5" r="1.35"/><circle cx="419.3" cy="185.5" r="1.35"/><circle cx="428.2" cy="185.5" r="1.35"/><circle cx="45.7" cy="193.9" r="1.35"/><circle cx="54.6" cy="193.9" r="1.35"/><circle cx="63.5" cy="193.9" r="1.35"/><circle cx="72.4" cy="193.9" r="1.35"/><circle cx="81.3" cy="193.9" r="1.35"/><circle cx="90.2" cy="193.9" r="1.35"/><circle cx="99.1" cy="193.9" r="1.35"/><circle cx="108.0" cy="193.9" r="1.35"/><circle cx="116.9" cy="193.9" r="1.35"/><circle cx="125.8" cy="193.9" r="1.35"/><circle cx="134.7" cy="193.9" r="1.35"/><circle cx="143.6" cy="193.9" r="1.35"/><circle cx="152.4" cy="193.9" r="1.35"/><circle cx="161.3" cy="193.9" r="1.35"/><circle cx="170.2" cy="193.9" r="1.35"/><circle cx="312.6" cy="193.9" r="1.35"/><circle cx="321.5" cy="193.9" r="1.35"/><circle cx="330.4" cy="193.9" r="1.35"/><circle cx="339.3" cy="193.9" r="1.35"/><circle cx="348.2" cy="193.9" r="1.35"/><circle cx="357.1" cy="193.9" r="1.35"/><circle cx="366.0" cy="193.9" r="1.35"/><circle cx="374.8" cy="193.9" r="1.35"/><circle cx="383.7" cy="193.9" r="1.35"/><circle cx="392.6" cy="193.9" r="1.35"/><circle cx="401.5" cy="193.9" r="1.35"/><circle cx="410.4" cy="193.9" r="1.35"/><circle cx="419.3" cy="193.9" r="1.35"/><circle cx="428.2" cy="193.9" r="1.35"/><circle cx="45.7" cy="202.2" r="1.35"/><circle cx="54.6" cy="202.2" r="1.35"/><circle cx="63.5" cy="202.2" r="1.35"/><circle cx="72.4" cy="202.2" r="1.35"/><circle cx="81.3" cy="202.2" r="1.35"/><circle cx="90.2" cy="202.2" r="1.35"/><circle cx="99.1" cy="202.2" r="1.35"/><circle cx="108.0" cy="202.2" r="1.35"/><circle cx="116.9" cy="202.2" r="1.35"/><circle cx="125.8" cy="202.2" r="1.35"/><circle cx="134.7" cy="202.2" r="1.35"/><circle cx="143.6" cy="202.2" r="1.35"/><circle cx="152.4" cy="202.2" r="1.35"/><circle cx="161.3" cy="202.2" r="1.35"/><circle cx="170.2" cy="202.2" r="1.35"/><circle cx="312.6" cy="202.2" r="1.35"/><circle cx="321.5" cy="202.2" r="1.35"/><circle cx="330.4" cy="202.2" r="1.35"/><circle cx="339.3" cy="202.2" r="1.35"/><circle cx="348.2" cy="202.2" r="1.35"/><circle cx="357.1" cy="202.2" r="1.35"/><circle cx="366.0" cy="202.2" r="1.35"/><circle cx="374.8" cy="202.2" r="1.35"/><circle cx="383.7" cy="202.2" r="1.35"/><circle cx="392.6" cy="202.2" r="1.35"/><circle cx="401.5" cy="202.2" r="1.35"/><circle cx="45.7" cy="210.6" r="1.35"/><circle cx="54.6" cy="210.6" r="1.35"/><circle cx="63.5" cy="210.6" r="1.35"/><circle cx="72.4" cy="210.6" r="1.35"/><circle cx="81.3" cy="210.6" r="1.35"/><circle cx="90.2" cy="210.6" r="1.35"/><circle cx="99.1" cy="210.6" r="1.35"/><circle cx="108.0" cy="210.6" r="1.35"/><circle cx="116.9" cy="210.6" r="1.35"/><circle cx="125.8" cy="210.6" r="1.35"/><circle cx="134.7" cy="210.6" r="1.35"/><circle cx="143.6" cy="210.6" r="1.35"/><circle cx="152.4" cy="210.6" r="1.35"/><circle cx="161.3" cy="210.6" r="1.35"/><circle cx="170.2" cy="210.6" r="1.35"/><circle cx="179.1" cy="210.6" r="1.35"/><circle cx="330.4" cy="210.6" r="1.35"/><circle cx="339.3" cy="210.6" r="1.35"/><circle cx="348.2" cy="210.6" r="1.35"/><circle cx="357.1" cy="210.6" r="1.35"/><circle cx="366.0" cy="210.6" r="1.35"/><circle cx="374.8" cy="210.6" r="1.35"/><circle cx="383.7" cy="210.6" r="1.35"/><circle cx="392.6" cy="210.6" r="1.35"/><circle cx="401.5" cy="210.6" r="1.35"/><circle cx="45.7" cy="218.9" r="1.35"/><circle cx="54.6" cy="218.9" r="1.35"/><circle cx="63.5" cy="218.9" r="1.35"/><circle cx="72.4" cy="218.9" r="1.35"/><circle cx="81.3" cy="218.9" r="1.35"/><circle cx="90.2" cy="218.9" r="1.35"/><circle cx="99.1" cy="218.9" r="1.35"/><circle cx="108.0" cy="218.9" r="1.35"/><circle cx="116.9" cy="218.9" r="1.35"/><circle cx="125.8" cy="218.9" r="1.35"/><circle cx="134.7" cy="218.9" r="1.35"/><circle cx="143.6" cy="218.9" r="1.35"/><circle cx="152.4" cy="218.9" r="1.35"/><circle cx="161.3" cy="218.9" r="1.35"/><circle cx="170.2" cy="218.9" r="1.35"/><circle cx="179.1" cy="218.9" r="1.35"/><circle cx="45.7" cy="227.3" r="1.35"/><circle cx="54.6" cy="227.3" r="1.35"/><circle cx="63.5" cy="227.3" r="1.35"/><circle cx="72.4" cy="227.3" r="1.35"/><circle cx="81.3" cy="227.3" r="1.35"/><circle cx="90.2" cy="227.3" r="1.35"/><circle cx="99.1" cy="227.3" r="1.35"/><circle cx="108.0" cy="227.3" r="1.35"/><circle cx="116.9" cy="227.3" r="1.35"/><circle cx="125.8" cy="227.3" r="1.35"/><circle cx="134.7" cy="227.3" r="1.35"/><circle cx="143.6" cy="227.3" r="1.35"/><circle cx="152.4" cy="227.3" r="1.35"/><circle cx="161.3" cy="227.3" r="1.35"/><circle cx="170.2" cy="227.3" r="1.35"/><circle cx="179.1" cy="227.3" r="1.35"/><circle cx="188.0" cy="227.3" r="1.35"/><circle cx="45.7" cy="235.6" r="1.35"/><circle cx="54.6" cy="235.6" r="1.35"/><circle cx="63.5" cy="235.6" r="1.35"/><circle cx="72.4" cy="235.6" r="1.35"/><circle cx="81.3" cy="235.6" r="1.35"/><circle cx="90.2" cy="235.6" r="1.35"/><circle cx="99.1" cy="235.6" r="1.35"/><circle cx="108.0" cy="235.6" r="1.35"/><circle cx="116.9" cy="235.6" r="1.35"/><circle cx="125.8" cy="235.6" r="1.35"/><circle cx="134.7" cy="235.6" r="1.35"/><circle cx="143.6" cy="235.6" r="1.35"/><circle cx="152.4" cy="235.6" r="1.35"/><circle cx="161.3" cy="235.6" r="1.35"/><circle cx="170.2" cy="235.6" r="1.35"/><circle cx="179.1" cy="235.6" r="1.35"/><circle cx="188.0" cy="235.6" r="1.35"/><circle cx="45.7" cy="244.0" r="1.35"/><circle cx="54.6" cy="244.0" r="1.35"/><circle cx="63.5" cy="244.0" r="1.35"/><circle cx="72.4" cy="244.0" r="1.35"/><circle cx="81.3" cy="244.0" r="1.35"/><circle cx="90.2" cy="244.0" r="1.35"/><circle cx="99.1" cy="244.0" r="1.35"/><circle cx="108.0" cy="244.0" r="1.35"/><circle cx="116.9" cy="244.0" r="1.35"/><circle cx="125.8" cy="244.0" r="1.35"/><circle cx="134.7" cy="244.0" r="1.35"/><circle cx="143.6" cy="244.0" r="1.35"/><circle cx="152.4" cy="244.0" r="1.35"/><circle cx="161.3" cy="244.0" r="1.35"/><circle cx="170.2" cy="244.0" r="1.35"/><circle cx="179.1" cy="244.0" r="1.35"/><circle cx="188.0" cy="244.0" r="1.35"/><circle cx="45.7" cy="252.3" r="1.35"/><circle cx="54.6" cy="252.3" r="1.35"/><circle cx="63.5" cy="252.3" r="1.35"/><circle cx="72.4" cy="252.3" r="1.35"/><circle cx="81.3" cy="252.3" r="1.35"/><circle cx="90.2" cy="252.3" r="1.35"/><circle cx="99.1" cy="252.3" r="1.35"/><circle cx="108.0" cy="252.3" r="1.35"/><circle cx="116.9" cy="252.3" r="1.35"/><circle cx="125.8" cy="252.3" r="1.35"/><circle cx="134.7" cy="252.3" r="1.35"/><circle cx="143.6" cy="252.3" r="1.35"/><circle cx="152.4" cy="252.3" r="1.35"/><circle cx="161.3" cy="252.3" r="1.35"/><circle cx="170.2" cy="252.3" r="1.35"/><circle cx="179.1" cy="252.3" r="1.35"/><circle cx="188.0" cy="252.3" r="1.35"/><circle cx="45.7" cy="260.7" r="1.35"/><circle cx="54.6" cy="260.7" r="1.35"/><circle cx="63.5" cy="260.7" r="1.35"/><circle cx="72.4" cy="260.7" r="1.35"/><circle cx="81.3" cy="260.7" r="1.35"/><circle cx="90.2" cy="260.7" r="1.35"/><circle cx="99.1" cy="260.7" r="1.35"/><circle cx="108.0" cy="260.7" r="1.35"/><circle cx="116.9" cy="260.7" r="1.35"/><circle cx="125.8" cy="260.7" r="1.35"/><circle cx="134.7" cy="260.7" r="1.35"/><circle cx="143.6" cy="260.7" r="1.35"/><circle cx="152.4" cy="260.7" r="1.35"/><circle cx="161.3" cy="260.7" r="1.35"/><circle cx="170.2" cy="260.7" r="1.35"/><circle cx="179.1" cy="260.7" r="1.35"/><circle cx="188.0" cy="260.7" r="1.35"/><circle cx="45.7" cy="269.1" r="1.35"/><circle cx="54.6" cy="269.1" r="1.35"/><circle cx="63.5" cy="269.1" r="1.35"/><circle cx="72.4" cy="269.1" r="1.35"/><circle cx="81.3" cy="269.1" r="1.35"/><circle cx="90.2" cy="269.1" r="1.35"/><circle cx="99.1" cy="269.1" r="1.35"/><circle cx="108.0" cy="269.1" r="1.35"/><circle cx="116.9" cy="269.1" r="1.35"/><circle cx="125.8" cy="269.1" r="1.35"/><circle cx="134.7" cy="269.1" r="1.35"/><circle cx="143.6" cy="269.1" r="1.35"/><circle cx="152.4" cy="269.1" r="1.35"/><circle cx="161.3" cy="269.1" r="1.35"/><circle cx="170.2" cy="269.1" r="1.35"/><circle cx="179.1" cy="269.1" r="1.35"/><circle cx="410.4" cy="269.1" r="1.35"/><circle cx="419.3" cy="269.1" r="1.35"/><circle cx="428.2" cy="269.1" r="1.35"/><circle cx="437.1" cy="269.1" r="1.35"/><circle cx="446.0" cy="269.1" r="1.35"/><circle cx="454.9" cy="269.1" r="1.35"/><circle cx="463.8" cy="269.1" r="1.35"/><circle cx="472.7" cy="269.1" r="1.35"/><circle cx="481.6" cy="269.1" r="1.35"/><circle cx="45.7" cy="277.4" r="1.35"/><circle cx="54.6" cy="277.4" r="1.35"/><circle cx="63.5" cy="277.4" r="1.35"/><circle cx="72.4" cy="277.4" r="1.35"/><circle cx="81.3" cy="277.4" r="1.35"/><circle cx="90.2" cy="277.4" r="1.35"/><circle cx="99.1" cy="277.4" r="1.35"/><circle cx="108.0" cy="277.4" r="1.35"/><circle cx="116.9" cy="277.4" r="1.35"/><circle cx="125.8" cy="277.4" r="1.35"/><circle cx="134.7" cy="277.4" r="1.35"/><circle cx="143.6" cy="277.4" r="1.35"/><circle cx="152.4" cy="277.4" r="1.35"/><circle cx="161.3" cy="277.4" r="1.35"/><circle cx="170.2" cy="277.4" r="1.35"/><circle cx="179.1" cy="277.4" r="1.35"/><circle cx="401.5" cy="277.4" r="1.35"/><circle cx="410.4" cy="277.4" r="1.35"/><circle cx="419.3" cy="277.4" r="1.35"/><circle cx="428.2" cy="277.4" r="1.35"/><circle cx="437.1" cy="277.4" r="1.35"/><circle cx="446.0" cy="277.4" r="1.35"/><circle cx="454.9" cy="277.4" r="1.35"/><circle cx="463.8" cy="277.4" r="1.35"/><circle cx="472.7" cy="277.4" r="1.35"/><circle cx="481.6" cy="277.4" r="1.35"/><circle cx="54.6" cy="285.8" r="1.35"/><circle cx="63.5" cy="285.8" r="1.35"/><circle cx="72.4" cy="285.8" r="1.35"/><circle cx="81.3" cy="285.8" r="1.35"/><circle cx="90.2" cy="285.8" r="1.35"/><circle cx="99.1" cy="285.8" r="1.35"/><circle cx="108.0" cy="285.8" r="1.35"/><circle cx="116.9" cy="285.8" r="1.35"/><circle cx="125.8" cy="285.8" r="1.35"/><circle cx="134.7" cy="285.8" r="1.35"/><circle cx="143.6" cy="285.8" r="1.35"/><circle cx="152.4" cy="285.8" r="1.35"/><circle cx="161.3" cy="285.8" r="1.35"/><circle cx="170.2" cy="285.8" r="1.35"/><circle cx="392.6" cy="285.8" r="1.35"/><circle cx="401.5" cy="285.8" r="1.35"/><circle cx="410.4" cy="285.8" r="1.35"/><circle cx="419.3" cy="285.8" r="1.35"/><circle cx="428.2" cy="285.8" r="1.35"/><circle cx="437.1" cy="285.8" r="1.35"/><circle cx="446.0" cy="285.8" r="1.35"/><circle cx="454.9" cy="285.8" r="1.35"/><circle cx="463.8" cy="285.8" r="1.35"/><circle cx="472.7" cy="285.8" r="1.35"/><circle cx="481.6" cy="285.8" r="1.35"/><circle cx="54.6" cy="294.1" r="1.35"/><circle cx="63.5" cy="294.1" r="1.35"/><circle cx="72.4" cy="294.1" r="1.35"/><circle cx="81.3" cy="294.1" r="1.35"/><circle cx="90.2" cy="294.1" r="1.35"/><circle cx="99.1" cy="294.1" r="1.35"/><circle cx="108.0" cy="294.1" r="1.35"/><circle cx="116.9" cy="294.1" r="1.35"/><circle cx="125.8" cy="294.1" r="1.35"/><circle cx="134.7" cy="294.1" r="1.35"/><circle cx="143.6" cy="294.1" r="1.35"/><circle cx="152.4" cy="294.1" r="1.35"/><circle cx="161.3" cy="294.1" r="1.35"/><circle cx="170.2" cy="294.1" r="1.35"/><circle cx="383.7" cy="294.1" r="1.35"/><circle cx="392.6" cy="294.1" r="1.35"/><circle cx="401.5" cy="294.1" r="1.35"/><circle cx="410.4" cy="294.1" r="1.35"/><circle cx="419.3" cy="294.1" r="1.35"/><circle cx="428.2" cy="294.1" r="1.35"/><circle cx="437.1" cy="294.1" r="1.35"/><circle cx="446.0" cy="294.1" r="1.35"/><circle cx="454.9" cy="294.1" r="1.35"/><circle cx="463.8" cy="294.1" r="1.35"/><circle cx="472.7" cy="294.1" r="1.35"/><circle cx="481.6" cy="294.1" r="1.35"/><circle cx="54.6" cy="302.5" r="1.35"/><circle cx="63.5" cy="302.5" r="1.35"/><circle cx="72.4" cy="302.5" r="1.35"/><circle cx="81.3" cy="302.5" r="1.35"/><circle cx="90.2" cy="302.5" r="1.35"/><circle cx="99.1" cy="302.5" r="1.35"/><circle cx="108.0" cy="302.5" r="1.35"/><circle cx="116.9" cy="302.5" r="1.35"/><circle cx="125.8" cy="302.5" r="1.35"/><circle cx="134.7" cy="302.5" r="1.35"/><circle cx="143.6" cy="302.5" r="1.35"/><circle cx="152.4" cy="302.5" r="1.35"/><circle cx="161.3" cy="302.5" r="1.35"/><circle cx="170.2" cy="302.5" r="1.35"/><circle cx="366.0" cy="302.5" r="1.35"/><circle cx="374.8" cy="302.5" r="1.35"/><circle cx="383.7" cy="302.5" r="1.35"/><circle cx="392.6" cy="302.5" r="1.35"/><circle cx="401.5" cy="302.5" r="1.35"/><circle cx="410.4" cy="302.5" r="1.35"/><circle cx="419.3" cy="302.5" r="1.35"/><circle cx="428.2" cy="302.5" r="1.35"/><circle cx="437.1" cy="302.5" r="1.35"/><circle cx="446.0" cy="302.5" r="1.35"/><circle cx="454.9" cy="302.5" r="1.35"/><circle cx="463.8" cy="302.5" r="1.35"/><circle cx="472.7" cy="302.5" r="1.35"/><circle cx="481.6" cy="302.5" r="1.35"/><circle cx="63.5" cy="310.8" r="1.35"/><circle cx="72.4" cy="310.8" r="1.35"/><circle cx="81.3" cy="310.8" r="1.35"/><circle cx="90.2" cy="310.8" r="1.35"/><circle cx="99.1" cy="310.8" r="1.35"/><circle cx="108.0" cy="310.8" r="1.35"/><circle cx="116.9" cy="310.8" r="1.35"/><circle cx="125.8" cy="310.8" r="1.35"/><circle cx="134.7" cy="310.8" r="1.35"/><circle cx="143.6" cy="310.8" r="1.35"/><circle cx="152.4" cy="310.8" r="1.35"/><circle cx="161.3" cy="310.8" r="1.35"/><circle cx="170.2" cy="310.8" r="1.35"/><circle cx="179.1" cy="310.8" r="1.35"/><circle cx="188.0" cy="310.8" r="1.35"/><circle cx="196.9" cy="310.8" r="1.35"/><circle cx="205.8" cy="310.8" r="1.35"/><circle cx="366.0" cy="310.8" r="1.35"/><circle cx="374.8" cy="310.8" r="1.35"/><circle cx="383.7" cy="310.8" r="1.35"/><circle cx="392.6" cy="310.8" r="1.35"/><circle cx="401.5" cy="310.8" r="1.35"/><circle cx="410.4" cy="310.8" r="1.35"/><circle cx="419.3" cy="310.8" r="1.35"/><circle cx="428.2" cy="310.8" r="1.35"/><circle cx="437.1" cy="310.8" r="1.35"/><circle cx="446.0" cy="310.8" r="1.35"/><circle cx="454.9" cy="310.8" r="1.35"/><circle cx="463.8" cy="310.8" r="1.35"/><circle cx="472.7" cy="310.8" r="1.35"/><circle cx="481.6" cy="310.8" r="1.35"/><circle cx="366.0" cy="319.2" r="1.35"/><circle cx="374.8" cy="319.2" r="1.35"/><circle cx="383.7" cy="319.2" r="1.35"/><circle cx="392.6" cy="319.2" r="1.35"/><circle cx="401.5" cy="319.2" r="1.35"/><circle cx="410.4" cy="319.2" r="1.35"/><circle cx="419.3" cy="319.2" r="1.35"/><circle cx="428.2" cy="319.2" r="1.35"/><circle cx="437.1" cy="319.2" r="1.35"/><circle cx="446.0" cy="319.2" r="1.35"/><circle cx="454.9" cy="319.2" r="1.35"/><circle cx="463.8" cy="319.2" r="1.35"/><circle cx="472.7" cy="319.2" r="1.35"/><circle cx="481.6" cy="319.2" r="1.35"/><circle cx="366.0" cy="327.5" r="1.35"/><circle cx="374.8" cy="327.5" r="1.35"/><circle cx="383.7" cy="327.5" r="1.35"/><circle cx="392.6" cy="327.5" r="1.35"/><circle cx="401.5" cy="327.5" r="1.35"/><circle cx="410.4" cy="327.5" r="1.35"/><circle cx="419.3" cy="327.5" r="1.35"/><circle cx="428.2" cy="327.5" r="1.35"/><circle cx="437.1" cy="327.5" r="1.35"/><circle cx="446.0" cy="327.5" r="1.35"/><circle cx="454.9" cy="327.5" r="1.35"/><circle cx="463.8" cy="327.5" r="1.35"/><circle cx="472.7" cy="327.5" r="1.35"/><circle cx="481.6" cy="327.5" r="1.35"/><circle cx="366.0" cy="335.9" r="1.35"/><circle cx="374.8" cy="335.9" r="1.35"/><circle cx="383.7" cy="335.9" r="1.35"/><circle cx="392.6" cy="335.9" r="1.35"/><circle cx="401.5" cy="335.9" r="1.35"/><circle cx="410.4" cy="335.9" r="1.35"/><circle cx="419.3" cy="335.9" r="1.35"/><circle cx="428.2" cy="335.9" r="1.35"/><circle cx="437.1" cy="335.9" r="1.35"/><circle cx="446.0" cy="335.9" r="1.35"/><circle cx="454.9" cy="335.9" r="1.35"/><circle cx="463.8" cy="335.9" r="1.35"/><circle cx="472.7" cy="335.9" r="1.35"/><circle cx="481.6" cy="335.9" r="1.35"/><circle cx="366.0" cy="344.3" r="1.35"/><circle cx="374.8" cy="344.3" r="1.35"/><circle cx="383.7" cy="344.3" r="1.35"/><circle cx="392.6" cy="344.3" r="1.35"/><circle cx="401.5" cy="344.3" r="1.35"/><circle cx="410.4" cy="344.3" r="1.35"/><circle cx="419.3" cy="344.3" r="1.35"/><circle cx="428.2" cy="344.3" r="1.35"/><circle cx="437.1" cy="344.3" r="1.35"/><circle cx="446.0" cy="344.3" r="1.35"/><circle cx="454.9" cy="344.3" r="1.35"/><circle cx="463.8" cy="344.3" r="1.35"/><circle cx="472.7" cy="344.3" r="1.35"/><circle cx="481.6" cy="344.3" r="1.35"/><circle cx="366.0" cy="352.6" r="1.35"/><circle cx="374.8" cy="352.6" r="1.35"/><circle cx="383.7" cy="352.6" r="1.35"/><circle cx="392.6" cy="352.6" r="1.35"/><circle cx="401.5" cy="352.6" r="1.35"/><circle cx="410.4" cy="352.6" r="1.35"/><circle cx="419.3" cy="352.6" r="1.35"/><circle cx="428.2" cy="352.6" r="1.35"/><circle cx="437.1" cy="352.6" r="1.35"/><circle cx="446.0" cy="352.6" r="1.35"/><circle cx="454.9" cy="352.6" r="1.35"/><circle cx="463.8" cy="352.6" r="1.35"/><circle cx="472.7" cy="352.6" r="1.35"/><circle cx="481.6" cy="352.6" r="1.35"/><circle cx="366.0" cy="361.0" r="1.35"/><circle cx="374.8" cy="361.0" r="1.35"/><circle cx="383.7" cy="361.0" r="1.35"/><circle cx="392.6" cy="361.0" r="1.35"/><circle cx="401.5" cy="361.0" r="1.35"/><circle cx="410.4" cy="361.0" r="1.35"/><circle cx="419.3" cy="361.0" r="1.35"/><circle cx="428.2" cy="361.0" r="1.35"/><circle cx="437.1" cy="361.0" r="1.35"/><circle cx="446.0" cy="361.0" r="1.35"/><circle cx="454.9" cy="361.0" r="1.35"/><circle cx="463.8" cy="361.0" r="1.35"/><circle cx="472.7" cy="361.0" r="1.35"/><circle cx="481.6" cy="361.0" r="1.35"/><circle cx="366.0" cy="369.3" r="1.35"/><circle cx="374.8" cy="369.3" r="1.35"/><circle cx="383.7" cy="369.3" r="1.35"/><circle cx="392.6" cy="369.3" r="1.35"/><circle cx="401.5" cy="369.3" r="1.35"/><circle cx="410.4" cy="369.3" r="1.35"/><circle cx="419.3" cy="369.3" r="1.35"/><circle cx="428.2" cy="369.3" r="1.35"/><circle cx="437.1" cy="369.3" r="1.35"/><circle cx="446.0" cy="369.3" r="1.35"/><circle cx="454.9" cy="369.3" r="1.35"/><circle cx="463.8" cy="369.3" r="1.35"/><circle cx="472.7" cy="369.3" r="1.35"/><circle cx="481.6" cy="369.3" r="1.35"/><circle cx="366.0" cy="377.7" r="1.35"/><circle cx="374.8" cy="377.7" r="1.35"/><circle cx="383.7" cy="377.7" r="1.35"/><circle cx="392.6" cy="377.7" r="1.35"/><circle cx="401.5" cy="377.7" r="1.35"/><circle cx="410.4" cy="377.7" r="1.35"/><circle cx="419.3" cy="377.7" r="1.35"/><circle cx="428.2" cy="377.7" r="1.35"/><circle cx="437.1" cy="377.7" r="1.35"/><circle cx="446.0" cy="377.7" r="1.35"/><circle cx="454.9" cy="377.7" r="1.35"/><circle cx="463.8" cy="377.7" r="1.35"/><circle cx="472.7" cy="377.7" r="1.35"/><circle cx="481.6" cy="377.7" r="1.35"/><circle cx="366.0" cy="386.0" r="1.35"/><circle cx="374.8" cy="386.0" r="1.35"/><circle cx="383.7" cy="386.0" r="1.35"/><circle cx="392.6" cy="386.0" r="1.35"/><circle cx="401.5" cy="386.0" r="1.35"/><circle cx="410.4" cy="386.0" r="1.35"/><circle cx="419.3" cy="386.0" r="1.35"/><circle cx="428.2" cy="386.0" r="1.35"/><circle cx="437.1" cy="386.0" r="1.35"/><circle cx="446.0" cy="386.0" r="1.35"/><circle cx="454.9" cy="386.0" r="1.35"/><circle cx="463.8" cy="386.0" r="1.35"/><circle cx="472.7" cy="386.0" r="1.35"/><circle cx="481.6" cy="386.0" r="1.35"/><circle cx="383.7" cy="394.4" r="1.35"/><circle cx="392.6" cy="394.4" r="1.35"/><circle cx="401.5" cy="394.4" r="1.35"/><circle cx="410.4" cy="394.4" r="1.35"/><circle cx="419.3" cy="394.4" r="1.35"/><circle cx="428.2" cy="394.4" r="1.35"/><circle cx="437.1" cy="394.4" r="1.35"/><circle cx="446.0" cy="394.4" r="1.35"/><circle cx="454.9" cy="394.4" r="1.35"/><circle cx="463.8" cy="394.4" r="1.35"/><circle cx="472.7" cy="394.4" r="1.35"/><circle cx="481.6" cy="394.4" r="1.35"/><circle cx="392.6" cy="402.8" r="1.35"/><circle cx="401.5" cy="402.8" r="1.35"/><circle cx="410.4" cy="402.8" r="1.35"/><circle cx="419.3" cy="402.8" r="1.35"/><circle cx="428.2" cy="402.8" r="1.35"/><circle cx="437.1" cy="402.8" r="1.35"/><circle cx="446.0" cy="402.8" r="1.35"/><circle cx="454.9" cy="402.8" r="1.35"/><circle cx="463.8" cy="402.8" r="1.35"/><circle cx="472.7" cy="402.8" r="1.35"/><circle cx="481.6" cy="402.8" r="1.35"/><circle cx="401.5" cy="411.1" r="1.35"/><circle cx="410.4" cy="411.1" r="1.35"/><circle cx="419.3" cy="411.1" r="1.35"/><circle cx="428.2" cy="411.1" r="1.35"/><circle cx="437.1" cy="411.1" r="1.35"/><circle cx="446.0" cy="411.1" r="1.35"/><circle cx="454.9" cy="411.1" r="1.35"/><circle cx="463.8" cy="411.1" r="1.35"/><circle cx="472.7" cy="411.1" r="1.35"/><circle cx="481.6" cy="411.1" r="1.35"/><circle cx="410.4" cy="419.5" r="1.35"/><circle cx="419.3" cy="419.5" r="1.35"/><circle cx="428.2" cy="419.5" r="1.35"/><circle cx="437.1" cy="419.5" r="1.35"/><circle cx="446.0" cy="419.5" r="1.35"/><circle cx="454.9" cy="419.5" r="1.35"/><circle cx="463.8" cy="419.5" r="1.35"/><circle cx="472.7" cy="419.5" r="1.35"/><circle cx="481.6" cy="419.5" r="1.35"/></g>
<circle cx="103.5" cy="239.8" r="18" fill="#ff0000"/>
<circle cx="170.2" cy="386.0" r="10.5" fill="#ff0000"/>
<circle cx="214.7" cy="93.6" r="12.7" fill="#ff0000"/>
<circle cx="370.4" cy="135.4" r="14.5" fill="#ff0000"/>
<circle cx="392.6" cy="177.1" r="8.8" fill="#ff0000"/>
<circle cx="448.2" cy="344.3" r="14.9" fill="#ff0000"/>
<polyline points="81.3,448.7 95.1,426.6 81.3,327.5 100.2,309.0 84.8,218.9 125.1,99.0 214.7,93.6 459.4,73.5" stroke="#ff0000" stroke-width="2.7" fill="none" stroke-linejoin="miter" stroke-linecap="butt"/>
<polyline points="95.1,426.6 131.7,370.8 126.6,284.5 268.5,146.2 279.2,122.0 298.8,97.3 330.4,90.2 459.4,72.7" stroke="#ff0000" stroke-width="2.7" stroke-dasharray="8.5,4.5" fill="none" stroke-linejoin="miter" stroke-linecap="butt"/>
<polyline points="81.3,448.7 38.6,260.7 38.6,200.1 232.5,70.6 459.4,71.4" stroke="#ff0000" stroke-width="2.7" stroke-dasharray="2.3,1.9" fill="none" stroke-linejoin="miter" stroke-linecap="butt"/>
<polyline points="259.2,448.7 309.5,380.8 369.4,267.7 420.9,254.4 436.2,244.4 444.2,242.7 459.4,72.7" stroke="#0000ff" stroke-width="2.7" fill="none" stroke-linejoin="miter" stroke-linecap="butt"/>
<polyline points="259.2,448.7 261.4,427.8 269.0,300.0 274.8,256.1 276.5,178.0 296.6,171.3 451.4,79.0 459.4,72.7" stroke="#0000ff" stroke-width="2.7" stroke-dasharray="8.5,4.5" fill="none" stroke-linejoin="miter" stroke-linecap="butt"/>
<polyline points="259.2,448.7 276.3,436.3 351.7,338.7 429.3,250.0 471.4,197.2 459.4,72.7" stroke="#0000ff" stroke-width="2.7" stroke-dasharray="2.3,1.9" fill="none" stroke-linejoin="miter" stroke-linecap="butt"/>
<polyline points="437.1,448.7 437.1,421.0 397.3,390.0 385.5,358.9 386.4,327.5 390.0,277.4 382.7,263.8 432.7,261.5 450.5,255.3 459.4,72.7" stroke="#00ff00" stroke-width="2.7" fill="none" stroke-linejoin="miter" stroke-linecap="butt"/>
<polyline points="437.1,448.7 437.1,122.8 459.4,72.7" stroke="#00ff00" stroke-width="2.7" stroke-dasharray="8.5,4.5" fill="none" stroke-linejoin="miter" stroke-linecap="butt"/>
<polyline points="386.4,335.5 438.9,250.0 472.7,196.4 459.4,72.7" stroke="#00ff00" stroke-width="2.7" stroke-dasharray="2.3,1.9" fill="none" stroke-linejoin="miter" stroke-linecap="butt"/>
<circle cx="103.5" cy="239.8" r="6.2" fill="#fff"/>
<path d="M97.9,239.8H109.1M103.5,234.2V245.4" stroke="#0000ff" stroke-width="1.7"/>
<path d="M165.2,386.0H175.2M170.2,381.0V391.0" stroke="#0000ff" stroke-width="1.7"/>
<path d="M209.7,93.6H219.7M214.7,88.6V98.6" stroke="#0000ff" stroke-width="1.7"/>
<circle cx="370.4" cy="135.4" r="3.2" fill="#fff"/>
<path d="M365.4,135.4H375.4M370.4,130.4V140.4" stroke="#0000ff" stroke-width="1.7"/>
<circle cx="392.6" cy="177.1" r="3.8" fill="#fff"/>
<path d="M387.6,177.1H397.6M392.6,172.1V182.1" stroke="#0000ff" stroke-width="1.7"/>
<circle cx="448.2" cy="344.3" r="3.6" fill="#fff"/>
<path d="M443.2,344.3H453.2M448.2,339.3V349.3" stroke="#0000ff" stroke-width="1.7"/>
<circle cx="81.3" cy="448.7" r="5.6" fill="none" stroke="#000" stroke-width="2.6"/>
<circle cx="259.2" cy="448.7" r="5.6" fill="none" stroke="#000" stroke-width="2.6"/>
<circle cx="437.1" cy="448.7" r="5.6" fill="none" stroke="#000" stroke-width="2.6"/>
<path d="M455.4,68.7L463.4,76.7M455.4,76.7L463.4,68.7" stroke="#000" stroke-width="2.2"/>
</g>
<text x="72.8" y="219" font-family="Liberation Serif, serif" font-weight="bold" font-size="9.3" fill="#111" stroke="#111" stroke-width="0.22">Customer 1</text>
<text x="156.5" y="370.6" font-family="Liberation Serif, serif" font-weight="bold" font-size="9.5" fill="#111" stroke="#111" stroke-width="0.22">Customer 2</text>
<text x="186" y="78.2" font-family="Liberation Serif, serif" font-weight="bold" font-size="9.43" fill="#111" stroke="#111" stroke-width="0.22">Customer 3</text>
<text x="354.2" y="117.2" font-family="Liberation Serif, serif" font-weight="bold" font-size="9.37" fill="#111" stroke="#111" stroke-width="0.22">Customer 4</text>
<text x="382.9" y="166.3" font-family="Liberation Serif, serif" font-weight="bold" font-size="9.4" fill="#111" stroke="#111" stroke-width="0.22">Customer 5</text>
<text x="404.8" y="321" font-family="Liberation Serif, serif" font-weight="bold" font-size="9.4" fill="#111" stroke="#111" stroke-width="0.22">Customer 6</text>
<text x="423.7" y="63.1" font-family="Liberation Serif, serif" font-weight="bold" font-size="9.3" fill="#111" stroke="#111" stroke-width="0.22">End Point</text>
<text x="54.4" y="440.3" font-family="Liberation Serif, serif" font-weight="bold" font-size="9.0" fill="#111" stroke="#111" stroke-width="0.22">Drone 1</text>
<text x="270" y="450.9" font-family="Liberation Serif, serif" font-weight="bold" font-size="9.1" fill="#111" stroke="#111" stroke-width="0.22">Drone 2</text>
<text x="395.6" y="450.4" font-family="Liberation Serif, serif" font-weight="bold" font-size="9.5" fill="#111" stroke="#111" stroke-width="0.22">Drone 3</text>
<text x="57.7" y="463.7" font-family="Liberation Serif, serif" font-weight="bold" font-size="9.68" fill="#111" stroke="#111" stroke-width="0.22">Start Point A</text>
<text x="236" y="463.6" font-family="Liberation Serif, serif" font-weight="bold" font-size="9.54" fill="#111" stroke="#111" stroke-width="0.22">Start Point A</text>
<text x="413.6" y="463" font-family="Liberation Serif, serif" font-weight="bold" font-size="9.62" fill="#111" stroke="#111" stroke-width="0.22">Start Point A</text>
<text x="457.6" y="193" font-family="Liberation Serif, serif" font-weight="bold" font-size="9.4" fill="#111" stroke="#111" stroke-width="0.22">Road 1</text>
<text x="211.8" y="256.6" font-family="Liberation Serif, serif" font-weight="bold" font-size="9.35" fill="#111" stroke="#111" stroke-width="0.22">Road 2</text>
<text x="241.5" y="338.7" font-family="Liberation Serif, serif" font-weight="bold" font-size="9.5" fill="#111" stroke="#111" stroke-width="0.22">Pedestrians and Buildings</text>
<path d="M296.3,325.5 L304.5,304.0" stroke="#000" stroke-width="0.8"/>
<path d="M307.3,296.5 L307.5,305.1 L305.2,302.1 L301.5,302.8 Z" fill="#000"/>
<rect x="36.8" y="43.4" width="453.5" height="426.1" fill="none" stroke="#8a8a8a" stroke-width="1.6"/>
<g stroke="#8a8a8a" stroke-width="1.1"><line x1="36.8" y1="469.5" x2="36.8" y2="465"/><line x1="36.8" y1="43.4" x2="36.8" y2="47.9"/><line x1="36.8" y1="469.6" x2="42.3" y2="469.6"/><line x1="490.3" y1="469.6" x2="484.3" y2="469.6"/><line x1="81.3" y1="469.5" x2="81.3" y2="465"/><line x1="81.3" y1="43.4" x2="81.3" y2="47.9"/><line x1="36.8" y1="427.8" x2="42.3" y2="427.8"/><line x1="490.3" y1="427.8" x2="484.3" y2="427.8"/><line x1="125.8" y1="469.5" x2="125.8" y2="465"/><line x1="125.8" y1="43.4" x2="125.8" y2="47.9"/><line x1="36.8" y1="386.0" x2="42.3" y2="386.0"/><line x1="490.3" y1="386.0" x2="484.3" y2="386.0"/><line x1="170.2" y1="469.5" x2="170.2" y2="465"/><line x1="170.2" y1="43.4" x2="170.2" y2="47.9"/><line x1="36.8" y1="344.3" x2="42.3" y2="344.3"/><line x1="490.3" y1="344.3" x2="484.3" y2="344.3"/><line x1="214.7" y1="469.5" x2="214.7" y2="465"/><line x1="214.7" y1="43.4" x2="214.7" y2="47.9"/><line x1="36.8" y1="302.5" x2="42.3" y2="302.5"/><line x1="490.3" y1="302.5" x2="484.3" y2="302.5"/><line x1="259.2" y1="469.5" x2="259.2" y2="465"/><line x1="259.2" y1="43.4" x2="259.2" y2="47.9"/><line x1="36.8" y1="260.7" x2="42.3" y2="260.7"/><line x1="490.3" y1="260.7" x2="484.3" y2="260.7"/><line x1="303.7" y1="469.5" x2="303.7" y2="465"/><line x1="303.7" y1="43.4" x2="303.7" y2="47.9"/><line x1="36.8" y1="218.9" x2="42.3" y2="218.9"/><line x1="490.3" y1="218.9" x2="484.3" y2="218.9"/><line x1="348.2" y1="469.5" x2="348.2" y2="465"/><line x1="348.2" y1="43.4" x2="348.2" y2="47.9"/><line x1="36.8" y1="177.1" x2="42.3" y2="177.1"/><line x1="490.3" y1="177.1" x2="484.3" y2="177.1"/><line x1="392.6" y1="469.5" x2="392.6" y2="465"/><line x1="392.6" y1="43.4" x2="392.6" y2="47.9"/><line x1="36.8" y1="135.4" x2="42.3" y2="135.4"/><line x1="490.3" y1="135.4" x2="484.3" y2="135.4"/><line x1="437.1" y1="469.5" x2="437.1" y2="465"/><line x1="437.1" y1="43.4" x2="437.1" y2="47.9"/><line x1="36.8" y1="93.6" x2="42.3" y2="93.6"/><line x1="490.3" y1="93.6" x2="484.3" y2="93.6"/><line x1="481.6" y1="469.5" x2="481.6" y2="465"/><line x1="481.6" y1="43.4" x2="481.6" y2="47.9"/><line x1="36.8" y1="51.8" x2="42.3" y2="51.8"/><line x1="490.3" y1="51.8" x2="484.3" y2="51.8"/></g>
<text x="36.8" y="480.3" text-anchor="middle" font-family="Liberation Serif, serif" font-weight="bold" font-size="10" fill="#333" stroke="#333" stroke-width="0.12">0</text>
<text x="34.4" y="473.0" text-anchor="end" font-family="Liberation Serif, serif" font-weight="bold" font-size="10" fill="#333" stroke="#333" stroke-width="0.12">0</text>
<text x="81.3" y="480.3" text-anchor="middle" font-family="Liberation Serif, serif" font-weight="bold" font-size="10" fill="#333" stroke="#333" stroke-width="0.12">0.1</text>
<text x="34.4" y="431.2" text-anchor="end" font-family="Liberation Serif, serif" font-weight="bold" font-size="10" fill="#333" stroke="#333" stroke-width="0.12">0.1</text>
<text x="125.8" y="480.3" text-anchor="middle" font-family="Liberation Serif, serif" font-weight="bold" font-size="10" fill="#333" stroke="#333" stroke-width="0.12">0.2</text>
<text x="34.4" y="389.4" text-anchor="end" font-family="Liberation Serif, serif" font-weight="bold" font-size="10" fill="#333" stroke="#333" stroke-width="0.12">0.2</text>
<text x="170.2" y="480.3" text-anchor="middle" font-family="Liberation Serif, serif" font-weight="bold" font-size="10" fill="#333" stroke="#333" stroke-width="0.12">0.3</text>
<text x="34.4" y="347.7" text-anchor="end" font-family="Liberation Serif, serif" font-weight="bold" font-size="10" fill="#333" stroke="#333" stroke-width="0.12">0.3</text>
<text x="214.7" y="480.3" text-anchor="middle" font-family="Liberation Serif, serif" font-weight="bold" font-size="10" fill="#333" stroke="#333" stroke-width="0.12">0.4</text>
<text x="34.4" y="305.9" text-anchor="end" font-family="Liberation Serif, serif" font-weight="bold" font-size="10" fill="#333" stroke="#333" stroke-width="0.12">0.4</text>
<text x="259.2" y="480.3" text-anchor="middle" font-family="Liberation Serif, serif" font-weight="bold" font-size="10" fill="#333" stroke="#333" stroke-width="0.12">0.5</text>
<text x="34.4" y="264.1" text-anchor="end" font-family="Liberation Serif, serif" font-weight="bold" font-size="10" fill="#333" stroke="#333" stroke-width="0.12">0.5</text>
<text x="303.7" y="480.3" text-anchor="middle" font-family="Liberation Serif, serif" font-weight="bold" font-size="10" fill="#333" stroke="#333" stroke-width="0.12">0.6</text>
<text x="34.4" y="222.3" text-anchor="end" font-family="Liberation Serif, serif" font-weight="bold" font-size="10" fill="#333" stroke="#333" stroke-width="0.12">0.6</text>
<text x="348.2" y="480.3" text-anchor="middle" font-family="Liberation Serif, serif" font-weight="bold" font-size="10" fill="#333" stroke="#333" stroke-width="0.12">0.7</text>
<text x="34.4" y="180.5" text-anchor="end" font-family="Liberation Serif, serif" font-weight="bold" font-size="10" fill="#333" stroke="#333" stroke-width="0.12">0.7</text>
<text x="392.6" y="480.3" text-anchor="middle" font-family="Liberation Serif, serif" font-weight="bold" font-size="10" fill="#333" stroke="#333" stroke-width="0.12">0.8</text>
<text x="34.4" y="138.8" text-anchor="end" font-family="Liberation Serif, serif" font-weight="bold" font-size="10" fill="#333" stroke="#333" stroke-width="0.12">0.8</text>
<text x="437.1" y="480.3" text-anchor="middle" font-family="Liberation Serif, serif" font-weight="bold" font-size="10" fill="#333" stroke="#333" stroke-width="0.12">0.9</text>
<text x="34.4" y="97.0" text-anchor="end" font-family="Liberation Serif, serif" font-weight="bold" font-size="10" fill="#333" stroke="#333" stroke-width="0.12">0.9</text>
<text x="481.6" y="480.3" text-anchor="middle" font-family="Liberation Serif, serif" font-weight="bold" font-size="10" fill="#333" stroke="#333" stroke-width="0.12">1</text>
<text x="34.4" y="55.2" text-anchor="end" font-family="Liberation Serif, serif" font-weight="bold" font-size="10" fill="#333" stroke="#333" stroke-width="0.12">1</text>
<text x="263.4" y="491.8" text-anchor="middle" font-family="Liberation Serif, serif" font-weight="bold" font-size="10" fill="#333" stroke="#333" stroke-width="0.12">X /km</text>
<text transform="translate(19.8,256) rotate(-90)" text-anchor="middle" font-family="Liberation Serif, serif" font-weight="bold" font-size="10" fill="#333" stroke="#333" stroke-width="0.12">Y /km</text>
<rect x="500.2" y="43.1" width="18.8" height="426.4" fill="url(#cb)" stroke="#444" stroke-width="0.8"/>
<line x1="519" y1="469.5" x2="515" y2="469.5" stroke="#444" stroke-width="0.8"/>
<text x="523.3" y="472.9" font-family="Liberation Serif, serif" font-weight="bold" font-size="10" fill="#333" stroke="#333" stroke-width="0.12">0.1</text>
<line x1="519" y1="422.1" x2="515" y2="422.1" stroke="#444" stroke-width="0.8"/>
<text x="523.3" y="425.5" font-family="Liberation Serif, serif" font-weight="bold" font-size="10" fill="#333" stroke="#333" stroke-width="0.12">0.2</text>
<line x1="519" y1="374.7" x2="515" y2="374.7" stroke="#444" stroke-width="0.8"/>
<text x="523.3" y="378.1" font-family="Liberation Serif, serif" font-weight="bold" font-size="10" fill="#333" stroke="#333" stroke-width="0.12">0.3</text>
<line x1="519" y1="327.4" x2="515" y2="327.4" stroke="#444" stroke-width="0.8"/>
<text x="523.3" y="330.8" font-family="Liberation Serif, serif" font-weight="bold" font-size="10" fill="#333" stroke="#333" stroke-width="0.12">0.4</text>
<line x1="519" y1="280.0" x2="515" y2="280.0" stroke="#444" stroke-width="0.8"/>
<text x="523.3" y="283.4" font-family="Liberation Serif, serif" font-weight="bold" font-size="10" fill="#333" stroke="#333" stroke-width="0.12">0.5</text>
<line x1="519" y1="232.6" x2="515" y2="232.6" stroke="#444" stroke-width="0.8"/>
<text x="523.3" y="236.0" font-family="Liberation Serif, serif" font-weight="bold" font-size="10" fill="#333" stroke="#333" stroke-width="0.12">0.6</text>
<line x1="519" y1="185.2" x2="515" y2="185.2" stroke="#444" stroke-width="0.8"/>
<text x="523.3" y="188.6" font-family="Liberation Serif, serif" font-weight="bold" font-size="10" fill="#333" stroke="#333" stroke-width="0.12">0.7</text>
<line x1="519" y1="137.9" x2="515" y2="137.9" stroke="#444" stroke-width="0.8"/>
<text x="523.3" y="141.3" font-family="Liberation Serif, serif" font-weight="bold" font-size="10" fill="#333" stroke="#333" stroke-width="0.12">0.8</text>
<line x1="519" y1="90.5" x2="515" y2="90.5" stroke="#444" stroke-width="0.8"/>
<text x="523.3" y="93.9" font-family="Liberation Serif, serif" font-weight="bold" font-size="10" fill="#333" stroke="#333" stroke-width="0.12">0.9</text>
<line x1="519" y1="43.1" x2="515" y2="43.1" stroke="#444" stroke-width="0.8"/>
<text x="523.3" y="46.5" font-family="Liberation Serif, serif" font-weight="bold" font-size="10" fill="#333" stroke="#333" stroke-width="0.12">1</text>
</svg></body></html>
